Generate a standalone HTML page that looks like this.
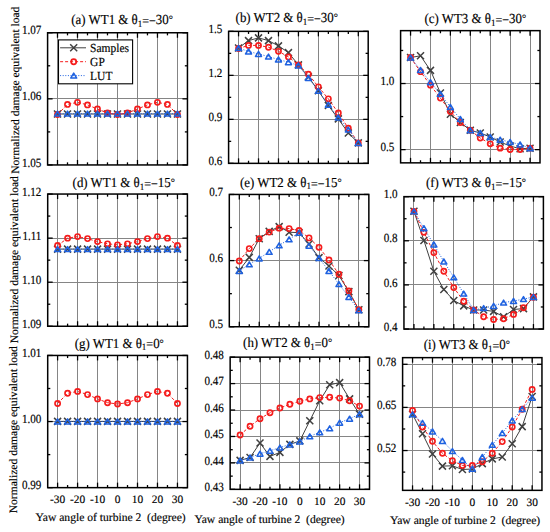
<!DOCTYPE html>
<html><head><meta charset="utf-8"><title>Chart</title>
<style>html,body{margin:0;padding:0;background:#fff;width:550px;height:532px;overflow:hidden}
svg{display:block;font-family:"Liberation Serif",serif;text-rendering:geometricPrecision} svg text{stroke:#000;stroke-width:0.15px}</style></head>
<body><svg width="550" height="532" viewBox="0 0 550 532" font-family='&quot;Liberation Serif&quot;, serif' fill="#000"><rect width="550" height="532" fill="#fff"/><g><line x1="57.5" y1="32.75" x2="57.5" y2="164.95" stroke="#858585" stroke-width="1"/><line x1="77.5" y1="32.75" x2="77.5" y2="164.95" stroke="#858585" stroke-width="1"/><line x1="97.5" y1="32.75" x2="97.5" y2="164.95" stroke="#858585" stroke-width="1"/><line x1="117.5" y1="32.75" x2="117.5" y2="164.95" stroke="#858585" stroke-width="1"/><line x1="137.5" y1="32.75" x2="137.5" y2="164.95" stroke="#858585" stroke-width="1"/><line x1="157.5" y1="32.75" x2="157.5" y2="164.95" stroke="#858585" stroke-width="1"/><line x1="177.5" y1="32.75" x2="177.5" y2="164.95" stroke="#858585" stroke-width="1"/><line x1="47.6" y1="98.5" x2="187.45" y2="98.5" stroke="#858585" stroke-width="1"/><line x1="57.5" y1="164.95" x2="57.5" y2="159.95" stroke="#000" stroke-width="1.3"/><line x1="57.5" y1="32.75" x2="57.5" y2="37.75" stroke="#000" stroke-width="1.3"/><line x1="67.5" y1="164.95" x2="67.5" y2="162.35" stroke="#000" stroke-width="1.3"/><line x1="67.5" y1="32.75" x2="67.5" y2="35.35" stroke="#000" stroke-width="1.3"/><line x1="77.49" y1="164.95" x2="77.49" y2="159.95" stroke="#000" stroke-width="1.3"/><line x1="77.49" y1="32.75" x2="77.49" y2="37.75" stroke="#000" stroke-width="1.3"/><line x1="87.49" y1="164.95" x2="87.49" y2="162.35" stroke="#000" stroke-width="1.3"/><line x1="87.49" y1="32.75" x2="87.49" y2="35.35" stroke="#000" stroke-width="1.3"/><line x1="97.48" y1="164.95" x2="97.48" y2="159.95" stroke="#000" stroke-width="1.3"/><line x1="97.48" y1="32.75" x2="97.48" y2="37.75" stroke="#000" stroke-width="1.3"/><line x1="107.48" y1="164.95" x2="107.48" y2="162.35" stroke="#000" stroke-width="1.3"/><line x1="107.48" y1="32.75" x2="107.48" y2="35.35" stroke="#000" stroke-width="1.3"/><line x1="117.47" y1="164.95" x2="117.47" y2="159.95" stroke="#000" stroke-width="1.3"/><line x1="117.47" y1="32.75" x2="117.47" y2="37.75" stroke="#000" stroke-width="1.3"/><line x1="127.47" y1="164.95" x2="127.47" y2="162.35" stroke="#000" stroke-width="1.3"/><line x1="127.47" y1="32.75" x2="127.47" y2="35.35" stroke="#000" stroke-width="1.3"/><line x1="137.47" y1="164.95" x2="137.47" y2="159.95" stroke="#000" stroke-width="1.3"/><line x1="137.47" y1="32.75" x2="137.47" y2="37.75" stroke="#000" stroke-width="1.3"/><line x1="147.46" y1="164.95" x2="147.46" y2="162.35" stroke="#000" stroke-width="1.3"/><line x1="147.46" y1="32.75" x2="147.46" y2="35.35" stroke="#000" stroke-width="1.3"/><line x1="157.46" y1="164.95" x2="157.46" y2="159.95" stroke="#000" stroke-width="1.3"/><line x1="157.46" y1="32.75" x2="157.46" y2="37.75" stroke="#000" stroke-width="1.3"/><line x1="167.45" y1="164.95" x2="167.45" y2="162.35" stroke="#000" stroke-width="1.3"/><line x1="167.45" y1="32.75" x2="167.45" y2="35.35" stroke="#000" stroke-width="1.3"/><line x1="177.45" y1="164.95" x2="177.45" y2="159.95" stroke="#000" stroke-width="1.3"/><line x1="177.45" y1="32.75" x2="177.45" y2="37.75" stroke="#000" stroke-width="1.3"/><line x1="47.6" y1="164.95" x2="52.6" y2="164.95" stroke="#000" stroke-width="1.3"/><line x1="187.45" y1="164.95" x2="182.45" y2="164.95" stroke="#000" stroke-width="1.3"/><line x1="47.6" y1="98.85" x2="52.6" y2="98.85" stroke="#000" stroke-width="1.3"/><line x1="187.45" y1="98.85" x2="182.45" y2="98.85" stroke="#000" stroke-width="1.3"/><line x1="47.6" y1="32.75" x2="52.6" y2="32.75" stroke="#000" stroke-width="1.3"/><line x1="187.45" y1="32.75" x2="182.45" y2="32.75" stroke="#000" stroke-width="1.3"/><line x1="47.6" y1="131.9" x2="50.2" y2="131.9" stroke="#000" stroke-width="1.3"/><line x1="187.45" y1="131.9" x2="184.85" y2="131.9" stroke="#000" stroke-width="1.3"/><line x1="47.6" y1="65.8" x2="50.2" y2="65.8" stroke="#000" stroke-width="1.3"/><line x1="187.45" y1="65.8" x2="184.85" y2="65.8" stroke="#000" stroke-width="1.3"/><text transform="translate(41.3,166.55) scale(1,1.13)" font-size="11.1" text-anchor="end">1.05</text><text transform="translate(41.3,100.45) scale(1,1.13)" font-size="11.1" text-anchor="end">1.06</text><text transform="translate(41.3,34.35) scale(1,1.13)" font-size="11.1" text-anchor="end">1.07</text><polyline points="57.5,114 67.5,114 77.49,114 87.49,114 97.48,114 107.48,114 117.47,114 127.47,114 137.47,114 147.46,114 157.46,114 167.45,114 177.45,114" stroke="#404040" stroke-width="1" fill="none"/><path d="M54 110.5L61 117.5M54 117.5L61 110.5" stroke="#404040" stroke-width="1.5" fill="none"/><path d="M64 110.5L71 117.5M64 117.5L71 110.5" stroke="#404040" stroke-width="1.5" fill="none"/><path d="M73.99 110.5L80.99 117.5M73.99 117.5L80.99 110.5" stroke="#404040" stroke-width="1.5" fill="none"/><path d="M83.99 110.5L90.99 117.5M83.99 117.5L90.99 110.5" stroke="#404040" stroke-width="1.5" fill="none"/><path d="M93.98 110.5L100.98 117.5M93.98 117.5L100.98 110.5" stroke="#404040" stroke-width="1.5" fill="none"/><path d="M103.98 110.5L110.98 117.5M103.98 117.5L110.98 110.5" stroke="#404040" stroke-width="1.5" fill="none"/><path d="M113.97 110.5L120.97 117.5M113.97 117.5L120.97 110.5" stroke="#404040" stroke-width="1.5" fill="none"/><path d="M123.97 110.5L130.97 117.5M123.97 117.5L130.97 110.5" stroke="#404040" stroke-width="1.5" fill="none"/><path d="M133.97 110.5L140.97 117.5M133.97 117.5L140.97 110.5" stroke="#404040" stroke-width="1.5" fill="none"/><path d="M143.96 110.5L150.96 117.5M143.96 117.5L150.96 110.5" stroke="#404040" stroke-width="1.5" fill="none"/><path d="M153.96 110.5L160.96 117.5M153.96 117.5L160.96 110.5" stroke="#404040" stroke-width="1.5" fill="none"/><path d="M163.95 110.5L170.95 117.5M163.95 117.5L170.95 110.5" stroke="#404040" stroke-width="1.5" fill="none"/><path d="M173.95 110.5L180.95 117.5M173.95 117.5L180.95 110.5" stroke="#404040" stroke-width="1.5" fill="none"/><polyline points="57.5,114.5 67.5,104.4 77.49,102.3 87.49,104.9 97.48,109 107.48,113 117.47,114.5 127.47,113 137.47,109 147.46,104.9 157.46,102.3 167.45,104.4 177.45,114.5" stroke="#f51c1c" stroke-width="1" fill="none" stroke-dasharray="3,2"/><circle cx="57.5" cy="114.5" r="2.6" stroke="#f51c1c" stroke-width="1.65" fill="none"/><circle cx="67.5" cy="104.4" r="2.6" stroke="#f51c1c" stroke-width="1.65" fill="none"/><circle cx="77.49" cy="102.3" r="2.6" stroke="#f51c1c" stroke-width="1.65" fill="none"/><circle cx="87.49" cy="104.9" r="2.6" stroke="#f51c1c" stroke-width="1.65" fill="none"/><circle cx="97.48" cy="109" r="2.6" stroke="#f51c1c" stroke-width="1.65" fill="none"/><circle cx="107.48" cy="113" r="2.6" stroke="#f51c1c" stroke-width="1.65" fill="none"/><circle cx="117.47" cy="114.5" r="2.6" stroke="#f51c1c" stroke-width="1.65" fill="none"/><circle cx="127.47" cy="113" r="2.6" stroke="#f51c1c" stroke-width="1.65" fill="none"/><circle cx="137.47" cy="109" r="2.6" stroke="#f51c1c" stroke-width="1.65" fill="none"/><circle cx="147.46" cy="104.9" r="2.6" stroke="#f51c1c" stroke-width="1.65" fill="none"/><circle cx="157.46" cy="102.3" r="2.6" stroke="#f51c1c" stroke-width="1.65" fill="none"/><circle cx="167.45" cy="104.4" r="2.6" stroke="#f51c1c" stroke-width="1.65" fill="none"/><circle cx="177.45" cy="114.5" r="2.6" stroke="#f51c1c" stroke-width="1.65" fill="none"/><polyline points="57.5,113.6 67.5,113.6 77.49,113.6 87.49,113.6 97.48,113.6 107.48,113.6 117.47,113.6 127.47,113.6 137.47,113.6 147.46,113.6 157.46,113.6 167.45,113.6 177.45,113.6" stroke="#1f62e0" stroke-width="1" fill="none" stroke-dasharray="1,1.6"/><path d="M57.5 111.1L60.5 116.1L54.5 116.1Z" stroke="#1f62e0" stroke-width="1.5" fill="none" stroke-linejoin="round"/><path d="M67.5 111.1L70.5 116.1L64.5 116.1Z" stroke="#1f62e0" stroke-width="1.5" fill="none" stroke-linejoin="round"/><path d="M77.49 111.1L80.49 116.1L74.49 116.1Z" stroke="#1f62e0" stroke-width="1.5" fill="none" stroke-linejoin="round"/><path d="M87.49 111.1L90.49 116.1L84.49 116.1Z" stroke="#1f62e0" stroke-width="1.5" fill="none" stroke-linejoin="round"/><path d="M97.48 111.1L100.48 116.1L94.48 116.1Z" stroke="#1f62e0" stroke-width="1.5" fill="none" stroke-linejoin="round"/><path d="M107.48 111.1L110.48 116.1L104.48 116.1Z" stroke="#1f62e0" stroke-width="1.5" fill="none" stroke-linejoin="round"/><path d="M117.47 111.1L120.47 116.1L114.47 116.1Z" stroke="#1f62e0" stroke-width="1.5" fill="none" stroke-linejoin="round"/><path d="M127.47 111.1L130.47 116.1L124.47 116.1Z" stroke="#1f62e0" stroke-width="1.5" fill="none" stroke-linejoin="round"/><path d="M137.47 111.1L140.47 116.1L134.47 116.1Z" stroke="#1f62e0" stroke-width="1.5" fill="none" stroke-linejoin="round"/><path d="M147.46 111.1L150.46 116.1L144.46 116.1Z" stroke="#1f62e0" stroke-width="1.5" fill="none" stroke-linejoin="round"/><path d="M157.46 111.1L160.46 116.1L154.46 116.1Z" stroke="#1f62e0" stroke-width="1.5" fill="none" stroke-linejoin="round"/><path d="M167.45 111.1L170.45 116.1L164.45 116.1Z" stroke="#1f62e0" stroke-width="1.5" fill="none" stroke-linejoin="round"/><path d="M177.45 111.1L180.45 116.1L174.45 116.1Z" stroke="#1f62e0" stroke-width="1.5" fill="none" stroke-linejoin="round"/><rect x="47.6" y="32.75" width="139.85" height="132.2" stroke="#000" stroke-width="1.5" fill="none"/><text transform="translate(71.3,24.35) scale(1,1.07)" font-size="12.9">(a) WT1 &amp; θ<tspan font-size="9" dy="2.6">1</tspan><tspan font-size="12" dy="-1.8">=−</tspan><tspan dy="-0.8">30</tspan><tspan font-size="10.5" dy="-0.9">°</tspan></text></g><g><line x1="238.5" y1="31.35" x2="238.5" y2="163.35" stroke="#858585" stroke-width="1"/><line x1="258.5" y1="31.35" x2="258.5" y2="163.35" stroke="#858585" stroke-width="1"/><line x1="278.5" y1="31.35" x2="278.5" y2="163.35" stroke="#858585" stroke-width="1"/><line x1="298.5" y1="31.35" x2="298.5" y2="163.35" stroke="#858585" stroke-width="1"/><line x1="318.5" y1="31.35" x2="318.5" y2="163.35" stroke="#858585" stroke-width="1"/><line x1="338.5" y1="31.35" x2="338.5" y2="163.35" stroke="#858585" stroke-width="1"/><line x1="358.5" y1="31.35" x2="358.5" y2="163.35" stroke="#858585" stroke-width="1"/><line x1="228.6" y1="119.5" x2="368.2" y2="119.5" stroke="#858585" stroke-width="1"/><line x1="228.6" y1="75.5" x2="368.2" y2="75.5" stroke="#858585" stroke-width="1"/><line x1="238.55" y1="163.35" x2="238.55" y2="158.35" stroke="#000" stroke-width="1.3"/><line x1="238.55" y1="31.35" x2="238.55" y2="36.35" stroke="#000" stroke-width="1.3"/><line x1="248.53" y1="163.35" x2="248.53" y2="160.75" stroke="#000" stroke-width="1.3"/><line x1="248.53" y1="31.35" x2="248.53" y2="33.95" stroke="#000" stroke-width="1.3"/><line x1="258.51" y1="163.35" x2="258.51" y2="158.35" stroke="#000" stroke-width="1.3"/><line x1="258.51" y1="31.35" x2="258.51" y2="36.35" stroke="#000" stroke-width="1.3"/><line x1="268.49" y1="163.35" x2="268.49" y2="160.75" stroke="#000" stroke-width="1.3"/><line x1="268.49" y1="31.35" x2="268.49" y2="33.95" stroke="#000" stroke-width="1.3"/><line x1="278.47" y1="163.35" x2="278.47" y2="158.35" stroke="#000" stroke-width="1.3"/><line x1="278.47" y1="31.35" x2="278.47" y2="36.35" stroke="#000" stroke-width="1.3"/><line x1="288.45" y1="163.35" x2="288.45" y2="160.75" stroke="#000" stroke-width="1.3"/><line x1="288.45" y1="31.35" x2="288.45" y2="33.95" stroke="#000" stroke-width="1.3"/><line x1="298.43" y1="163.35" x2="298.43" y2="158.35" stroke="#000" stroke-width="1.3"/><line x1="298.43" y1="31.35" x2="298.43" y2="36.35" stroke="#000" stroke-width="1.3"/><line x1="308.4" y1="163.35" x2="308.4" y2="160.75" stroke="#000" stroke-width="1.3"/><line x1="308.4" y1="31.35" x2="308.4" y2="33.95" stroke="#000" stroke-width="1.3"/><line x1="318.38" y1="163.35" x2="318.38" y2="158.35" stroke="#000" stroke-width="1.3"/><line x1="318.38" y1="31.35" x2="318.38" y2="36.35" stroke="#000" stroke-width="1.3"/><line x1="328.36" y1="163.35" x2="328.36" y2="160.75" stroke="#000" stroke-width="1.3"/><line x1="328.36" y1="31.35" x2="328.36" y2="33.95" stroke="#000" stroke-width="1.3"/><line x1="338.34" y1="163.35" x2="338.34" y2="158.35" stroke="#000" stroke-width="1.3"/><line x1="338.34" y1="31.35" x2="338.34" y2="36.35" stroke="#000" stroke-width="1.3"/><line x1="348.32" y1="163.35" x2="348.32" y2="160.75" stroke="#000" stroke-width="1.3"/><line x1="348.32" y1="31.35" x2="348.32" y2="33.95" stroke="#000" stroke-width="1.3"/><line x1="358.3" y1="163.35" x2="358.3" y2="158.35" stroke="#000" stroke-width="1.3"/><line x1="358.3" y1="31.35" x2="358.3" y2="36.35" stroke="#000" stroke-width="1.3"/><line x1="228.6" y1="163.35" x2="233.6" y2="163.35" stroke="#000" stroke-width="1.3"/><line x1="368.2" y1="163.35" x2="363.2" y2="163.35" stroke="#000" stroke-width="1.3"/><line x1="228.6" y1="119.35" x2="233.6" y2="119.35" stroke="#000" stroke-width="1.3"/><line x1="368.2" y1="119.35" x2="363.2" y2="119.35" stroke="#000" stroke-width="1.3"/><line x1="228.6" y1="75.35" x2="233.6" y2="75.35" stroke="#000" stroke-width="1.3"/><line x1="368.2" y1="75.35" x2="363.2" y2="75.35" stroke="#000" stroke-width="1.3"/><line x1="228.6" y1="31.35" x2="233.6" y2="31.35" stroke="#000" stroke-width="1.3"/><line x1="368.2" y1="31.35" x2="363.2" y2="31.35" stroke="#000" stroke-width="1.3"/><line x1="228.6" y1="141.35" x2="231.2" y2="141.35" stroke="#000" stroke-width="1.3"/><line x1="368.2" y1="141.35" x2="365.6" y2="141.35" stroke="#000" stroke-width="1.3"/><line x1="228.6" y1="97.35" x2="231.2" y2="97.35" stroke="#000" stroke-width="1.3"/><line x1="368.2" y1="97.35" x2="365.6" y2="97.35" stroke="#000" stroke-width="1.3"/><line x1="228.6" y1="53.35" x2="231.2" y2="53.35" stroke="#000" stroke-width="1.3"/><line x1="368.2" y1="53.35" x2="365.6" y2="53.35" stroke="#000" stroke-width="1.3"/><text transform="translate(222.3,164.95) scale(1,1.13)" font-size="11.1" text-anchor="end">0.6</text><text transform="translate(222.3,120.95) scale(1,1.13)" font-size="11.1" text-anchor="end">0.9</text><text transform="translate(222.3,76.95) scale(1,1.13)" font-size="11.1" text-anchor="end">1.2</text><text transform="translate(222.3,32.95) scale(1,1.13)" font-size="11.1" text-anchor="end">1.5</text><polyline points="238.55,48 248.53,40.6 258.51,37.9 268.49,40.6 278.47,45.9 288.45,52.6 298.43,64.9 308.4,76.9 318.38,90.8 328.36,105.5 338.34,118.9 348.32,133 358.3,142.9" stroke="#404040" stroke-width="1" fill="none"/><path d="M235.05 44.5L242.05 51.5M235.05 51.5L242.05 44.5" stroke="#404040" stroke-width="1.5" fill="none"/><path d="M245.03 37.1L252.03 44.1M245.03 44.1L252.03 37.1" stroke="#404040" stroke-width="1.5" fill="none"/><path d="M255.01 34.4L262.01 41.4M255.01 41.4L262.01 34.4" stroke="#404040" stroke-width="1.5" fill="none"/><path d="M264.99 37.1L271.99 44.1M264.99 44.1L271.99 37.1" stroke="#404040" stroke-width="1.5" fill="none"/><path d="M274.97 42.4L281.97 49.4M274.97 49.4L281.97 42.4" stroke="#404040" stroke-width="1.5" fill="none"/><path d="M284.95 49.1L291.95 56.1M284.95 56.1L291.95 49.1" stroke="#404040" stroke-width="1.5" fill="none"/><path d="M294.93 61.4L301.93 68.4M294.93 68.4L301.93 61.4" stroke="#404040" stroke-width="1.5" fill="none"/><path d="M304.9 73.4L311.9 80.4M304.9 80.4L311.9 73.4" stroke="#404040" stroke-width="1.5" fill="none"/><path d="M314.88 87.3L321.88 94.3M314.88 94.3L321.88 87.3" stroke="#404040" stroke-width="1.5" fill="none"/><path d="M324.86 102L331.86 109M324.86 109L331.86 102" stroke="#404040" stroke-width="1.5" fill="none"/><path d="M334.84 115.4L341.84 122.4M334.84 122.4L341.84 115.4" stroke="#404040" stroke-width="1.5" fill="none"/><path d="M344.82 129.5L351.82 136.5M344.82 136.5L351.82 129.5" stroke="#404040" stroke-width="1.5" fill="none"/><path d="M354.8 139.4L361.8 146.4M354.8 146.4L361.8 139.4" stroke="#404040" stroke-width="1.5" fill="none"/><polyline points="238.55,48.5 248.53,45.4 258.51,45.4 268.49,47.2 278.47,51.3 288.45,56.9 298.43,64.9 308.4,74.2 318.38,86.8 328.36,98.8 338.34,113 348.32,128.2 358.3,142.9" stroke="#f51c1c" stroke-width="1" fill="none" stroke-dasharray="3,2"/><circle cx="238.55" cy="48.5" r="2.6" stroke="#f51c1c" stroke-width="1.65" fill="none"/><circle cx="248.53" cy="45.4" r="2.6" stroke="#f51c1c" stroke-width="1.65" fill="none"/><circle cx="258.51" cy="45.4" r="2.6" stroke="#f51c1c" stroke-width="1.65" fill="none"/><circle cx="268.49" cy="47.2" r="2.6" stroke="#f51c1c" stroke-width="1.65" fill="none"/><circle cx="278.47" cy="51.3" r="2.6" stroke="#f51c1c" stroke-width="1.65" fill="none"/><circle cx="288.45" cy="56.9" r="2.6" stroke="#f51c1c" stroke-width="1.65" fill="none"/><circle cx="298.43" cy="64.9" r="2.6" stroke="#f51c1c" stroke-width="1.65" fill="none"/><circle cx="308.4" cy="74.2" r="2.6" stroke="#f51c1c" stroke-width="1.65" fill="none"/><circle cx="318.38" cy="86.8" r="2.6" stroke="#f51c1c" stroke-width="1.65" fill="none"/><circle cx="328.36" cy="98.8" r="2.6" stroke="#f51c1c" stroke-width="1.65" fill="none"/><circle cx="338.34" cy="113" r="2.6" stroke="#f51c1c" stroke-width="1.65" fill="none"/><circle cx="348.32" cy="128.2" r="2.6" stroke="#f51c1c" stroke-width="1.65" fill="none"/><circle cx="358.3" cy="142.9" r="2.6" stroke="#f51c1c" stroke-width="1.65" fill="none"/><polyline points="238.55,48 248.53,51.5 258.51,53.9 268.49,56.6 278.47,59.5 288.45,62.2 298.43,65.4 308.4,78 318.38,90.8 328.36,104.7 338.34,117.5 348.32,129.6 358.3,142.9" stroke="#1f62e0" stroke-width="1" fill="none" stroke-dasharray="1,1.6"/><path d="M238.55 45.5L241.55 50.5L235.55 50.5Z" stroke="#1f62e0" stroke-width="1.5" fill="none" stroke-linejoin="round"/><path d="M248.53 49L251.53 54L245.53 54Z" stroke="#1f62e0" stroke-width="1.5" fill="none" stroke-linejoin="round"/><path d="M258.51 51.4L261.51 56.4L255.51 56.4Z" stroke="#1f62e0" stroke-width="1.5" fill="none" stroke-linejoin="round"/><path d="M268.49 54.1L271.49 59.1L265.49 59.1Z" stroke="#1f62e0" stroke-width="1.5" fill="none" stroke-linejoin="round"/><path d="M278.47 57L281.47 62L275.47 62Z" stroke="#1f62e0" stroke-width="1.5" fill="none" stroke-linejoin="round"/><path d="M288.45 59.7L291.45 64.7L285.45 64.7Z" stroke="#1f62e0" stroke-width="1.5" fill="none" stroke-linejoin="round"/><path d="M298.43 62.9L301.43 67.9L295.43 67.9Z" stroke="#1f62e0" stroke-width="1.5" fill="none" stroke-linejoin="round"/><path d="M308.4 75.5L311.4 80.5L305.4 80.5Z" stroke="#1f62e0" stroke-width="1.5" fill="none" stroke-linejoin="round"/><path d="M318.38 88.3L321.38 93.3L315.38 93.3Z" stroke="#1f62e0" stroke-width="1.5" fill="none" stroke-linejoin="round"/><path d="M328.36 102.2L331.36 107.2L325.36 107.2Z" stroke="#1f62e0" stroke-width="1.5" fill="none" stroke-linejoin="round"/><path d="M338.34 115L341.34 120L335.34 120Z" stroke="#1f62e0" stroke-width="1.5" fill="none" stroke-linejoin="round"/><path d="M348.32 127.1L351.32 132.1L345.32 132.1Z" stroke="#1f62e0" stroke-width="1.5" fill="none" stroke-linejoin="round"/><path d="M358.3 140.4L361.3 145.4L355.3 145.4Z" stroke="#1f62e0" stroke-width="1.5" fill="none" stroke-linejoin="round"/><rect x="228.6" y="31.35" width="139.6" height="132" stroke="#000" stroke-width="1.5" fill="none"/><text transform="translate(235.6,21.75) scale(1,1.07)" font-size="12.9">(b) WT2 &amp; θ<tspan font-size="9" dy="2.6">1</tspan><tspan font-size="12" dy="-1.8">=−</tspan><tspan dy="-0.8">30</tspan><tspan font-size="10.5" dy="-0.9">°</tspan></text></g><g><line x1="410.5" y1="30.65" x2="410.5" y2="162.85" stroke="#858585" stroke-width="1"/><line x1="430.5" y1="30.65" x2="430.5" y2="162.85" stroke="#858585" stroke-width="1"/><line x1="450.5" y1="30.65" x2="450.5" y2="162.85" stroke="#858585" stroke-width="1"/><line x1="470.5" y1="30.65" x2="470.5" y2="162.85" stroke="#858585" stroke-width="1"/><line x1="490.5" y1="30.65" x2="490.5" y2="162.85" stroke="#858585" stroke-width="1"/><line x1="510.5" y1="30.65" x2="510.5" y2="162.85" stroke="#858585" stroke-width="1"/><line x1="530.5" y1="30.65" x2="530.5" y2="162.85" stroke="#858585" stroke-width="1"/><line x1="400.6" y1="149.5" x2="540" y2="149.5" stroke="#858585" stroke-width="1"/><line x1="400.6" y1="83.5" x2="540" y2="83.5" stroke="#858585" stroke-width="1"/><line x1="410.55" y1="162.85" x2="410.55" y2="157.85" stroke="#000" stroke-width="1.3"/><line x1="410.55" y1="30.65" x2="410.55" y2="35.65" stroke="#000" stroke-width="1.3"/><line x1="420.51" y1="162.85" x2="420.51" y2="160.25" stroke="#000" stroke-width="1.3"/><line x1="420.51" y1="30.65" x2="420.51" y2="33.25" stroke="#000" stroke-width="1.3"/><line x1="430.47" y1="162.85" x2="430.47" y2="157.85" stroke="#000" stroke-width="1.3"/><line x1="430.47" y1="30.65" x2="430.47" y2="35.65" stroke="#000" stroke-width="1.3"/><line x1="440.43" y1="162.85" x2="440.43" y2="160.25" stroke="#000" stroke-width="1.3"/><line x1="440.43" y1="30.65" x2="440.43" y2="33.25" stroke="#000" stroke-width="1.3"/><line x1="450.38" y1="162.85" x2="450.38" y2="157.85" stroke="#000" stroke-width="1.3"/><line x1="450.38" y1="30.65" x2="450.38" y2="35.65" stroke="#000" stroke-width="1.3"/><line x1="460.34" y1="162.85" x2="460.34" y2="160.25" stroke="#000" stroke-width="1.3"/><line x1="460.34" y1="30.65" x2="460.34" y2="33.25" stroke="#000" stroke-width="1.3"/><line x1="470.3" y1="162.85" x2="470.3" y2="157.85" stroke="#000" stroke-width="1.3"/><line x1="470.3" y1="30.65" x2="470.3" y2="35.65" stroke="#000" stroke-width="1.3"/><line x1="480.26" y1="162.85" x2="480.26" y2="160.25" stroke="#000" stroke-width="1.3"/><line x1="480.26" y1="30.65" x2="480.26" y2="33.25" stroke="#000" stroke-width="1.3"/><line x1="490.22" y1="162.85" x2="490.22" y2="157.85" stroke="#000" stroke-width="1.3"/><line x1="490.22" y1="30.65" x2="490.22" y2="35.65" stroke="#000" stroke-width="1.3"/><line x1="500.17" y1="162.85" x2="500.17" y2="160.25" stroke="#000" stroke-width="1.3"/><line x1="500.17" y1="30.65" x2="500.17" y2="33.25" stroke="#000" stroke-width="1.3"/><line x1="510.13" y1="162.85" x2="510.13" y2="157.85" stroke="#000" stroke-width="1.3"/><line x1="510.13" y1="30.65" x2="510.13" y2="35.65" stroke="#000" stroke-width="1.3"/><line x1="520.09" y1="162.85" x2="520.09" y2="160.25" stroke="#000" stroke-width="1.3"/><line x1="520.09" y1="30.65" x2="520.09" y2="33.25" stroke="#000" stroke-width="1.3"/><line x1="530.05" y1="162.85" x2="530.05" y2="157.85" stroke="#000" stroke-width="1.3"/><line x1="530.05" y1="30.65" x2="530.05" y2="35.65" stroke="#000" stroke-width="1.3"/><line x1="400.6" y1="149.63" x2="405.6" y2="149.63" stroke="#000" stroke-width="1.3"/><line x1="540" y1="149.63" x2="535" y2="149.63" stroke="#000" stroke-width="1.3"/><line x1="400.6" y1="83.53" x2="405.6" y2="83.53" stroke="#000" stroke-width="1.3"/><line x1="540" y1="83.53" x2="535" y2="83.53" stroke="#000" stroke-width="1.3"/><line x1="400.6" y1="116.58" x2="403.2" y2="116.58" stroke="#000" stroke-width="1.3"/><line x1="540" y1="116.58" x2="537.4" y2="116.58" stroke="#000" stroke-width="1.3"/><line x1="400.6" y1="50.48" x2="403.2" y2="50.48" stroke="#000" stroke-width="1.3"/><line x1="540" y1="50.48" x2="537.4" y2="50.48" stroke="#000" stroke-width="1.3"/><text transform="translate(394.3,151.23) scale(1,1.13)" font-size="11.1" text-anchor="end">0.5</text><text transform="translate(394.3,85.13) scale(1,1.13)" font-size="11.1" text-anchor="end">1.0</text><polyline points="410.55,57.5 420.51,55.8 430.47,70.4 440.43,93 450.38,114.2 460.34,122.5 470.3,130.2 480.26,133 490.22,137 500.17,142 510.13,146 520.09,148.8 530.05,148.2" stroke="#404040" stroke-width="1" fill="none"/><path d="M407.05 54L414.05 61M407.05 61L414.05 54" stroke="#404040" stroke-width="1.5" fill="none"/><path d="M417.01 52.3L424.01 59.3M417.01 59.3L424.01 52.3" stroke="#404040" stroke-width="1.5" fill="none"/><path d="M426.97 66.9L433.97 73.9M426.97 73.9L433.97 66.9" stroke="#404040" stroke-width="1.5" fill="none"/><path d="M436.93 89.5L443.93 96.5M436.93 96.5L443.93 89.5" stroke="#404040" stroke-width="1.5" fill="none"/><path d="M446.88 110.7L453.88 117.7M446.88 117.7L453.88 110.7" stroke="#404040" stroke-width="1.5" fill="none"/><path d="M456.84 119L463.84 126M456.84 126L463.84 119" stroke="#404040" stroke-width="1.5" fill="none"/><path d="M466.8 126.7L473.8 133.7M466.8 133.7L473.8 126.7" stroke="#404040" stroke-width="1.5" fill="none"/><path d="M476.76 129.5L483.76 136.5M476.76 136.5L483.76 129.5" stroke="#404040" stroke-width="1.5" fill="none"/><path d="M486.72 133.5L493.72 140.5M486.72 140.5L493.72 133.5" stroke="#404040" stroke-width="1.5" fill="none"/><path d="M496.67 138.5L503.67 145.5M496.67 145.5L503.67 138.5" stroke="#404040" stroke-width="1.5" fill="none"/><path d="M506.63 142.5L513.63 149.5M506.63 149.5L513.63 142.5" stroke="#404040" stroke-width="1.5" fill="none"/><path d="M516.59 145.3L523.59 152.3M516.59 152.3L523.59 145.3" stroke="#404040" stroke-width="1.5" fill="none"/><path d="M526.55 144.7L533.55 151.7M526.55 151.7L533.55 144.7" stroke="#404040" stroke-width="1.5" fill="none"/><polyline points="410.55,57.5 420.51,71.7 430.47,85.2 440.43,98.1 450.38,111.6 460.34,122.5 470.3,130.2 480.26,138 490.22,143.8 500.17,148.2 510.13,149.5 520.09,149.5 530.05,148.2" stroke="#f51c1c" stroke-width="1" fill="none" stroke-dasharray="3,2"/><circle cx="410.55" cy="57.5" r="2.6" stroke="#f51c1c" stroke-width="1.65" fill="none"/><circle cx="420.51" cy="71.7" r="2.6" stroke="#f51c1c" stroke-width="1.65" fill="none"/><circle cx="430.47" cy="85.2" r="2.6" stroke="#f51c1c" stroke-width="1.65" fill="none"/><circle cx="440.43" cy="98.1" r="2.6" stroke="#f51c1c" stroke-width="1.65" fill="none"/><circle cx="450.38" cy="111.6" r="2.6" stroke="#f51c1c" stroke-width="1.65" fill="none"/><circle cx="460.34" cy="122.5" r="2.6" stroke="#f51c1c" stroke-width="1.65" fill="none"/><circle cx="470.3" cy="130.2" r="2.6" stroke="#f51c1c" stroke-width="1.65" fill="none"/><circle cx="480.26" cy="138" r="2.6" stroke="#f51c1c" stroke-width="1.65" fill="none"/><circle cx="490.22" cy="143.8" r="2.6" stroke="#f51c1c" stroke-width="1.65" fill="none"/><circle cx="500.17" cy="148.2" r="2.6" stroke="#f51c1c" stroke-width="1.65" fill="none"/><circle cx="510.13" cy="149.5" r="2.6" stroke="#f51c1c" stroke-width="1.65" fill="none"/><circle cx="520.09" cy="149.5" r="2.6" stroke="#f51c1c" stroke-width="1.65" fill="none"/><circle cx="530.05" cy="148.2" r="2.6" stroke="#f51c1c" stroke-width="1.65" fill="none"/><polyline points="410.55,57.5 420.51,70 430.47,82.2 440.43,94 450.38,107 460.34,119 470.3,130.2 480.26,133 490.22,137 500.17,139.7 510.13,142 520.09,144.5 530.05,148.2" stroke="#1f62e0" stroke-width="1" fill="none" stroke-dasharray="1,1.6"/><path d="M410.55 55L413.55 60L407.55 60Z" stroke="#1f62e0" stroke-width="1.5" fill="none" stroke-linejoin="round"/><path d="M420.51 67.5L423.51 72.5L417.51 72.5Z" stroke="#1f62e0" stroke-width="1.5" fill="none" stroke-linejoin="round"/><path d="M430.47 79.7L433.47 84.7L427.47 84.7Z" stroke="#1f62e0" stroke-width="1.5" fill="none" stroke-linejoin="round"/><path d="M440.43 91.5L443.43 96.5L437.43 96.5Z" stroke="#1f62e0" stroke-width="1.5" fill="none" stroke-linejoin="round"/><path d="M450.38 104.5L453.38 109.5L447.38 109.5Z" stroke="#1f62e0" stroke-width="1.5" fill="none" stroke-linejoin="round"/><path d="M460.34 116.5L463.34 121.5L457.34 121.5Z" stroke="#1f62e0" stroke-width="1.5" fill="none" stroke-linejoin="round"/><path d="M470.3 127.7L473.3 132.7L467.3 132.7Z" stroke="#1f62e0" stroke-width="1.5" fill="none" stroke-linejoin="round"/><path d="M480.26 130.5L483.26 135.5L477.26 135.5Z" stroke="#1f62e0" stroke-width="1.5" fill="none" stroke-linejoin="round"/><path d="M490.22 134.5L493.22 139.5L487.22 139.5Z" stroke="#1f62e0" stroke-width="1.5" fill="none" stroke-linejoin="round"/><path d="M500.17 137.2L503.17 142.2L497.17 142.2Z" stroke="#1f62e0" stroke-width="1.5" fill="none" stroke-linejoin="round"/><path d="M510.13 139.5L513.13 144.5L507.13 144.5Z" stroke="#1f62e0" stroke-width="1.5" fill="none" stroke-linejoin="round"/><path d="M520.09 142L523.09 147L517.09 147Z" stroke="#1f62e0" stroke-width="1.5" fill="none" stroke-linejoin="round"/><path d="M530.05 145.7L533.05 150.7L527.05 150.7Z" stroke="#1f62e0" stroke-width="1.5" fill="none" stroke-linejoin="round"/><rect x="400.6" y="30.65" width="139.4" height="132.2" stroke="#000" stroke-width="1.5" fill="none"/><text transform="translate(424.5,23.25) scale(1,1.07)" font-size="12.9">(c) WT3 &amp; θ<tspan font-size="9" dy="2.6">1</tspan><tspan font-size="12" dy="-1.8">=−</tspan><tspan dy="-0.8">30</tspan><tspan font-size="10.5" dy="-0.9">°</tspan></text></g><g><line x1="57.5" y1="194.05" x2="57.5" y2="326.25" stroke="#858585" stroke-width="1"/><line x1="77.5" y1="194.05" x2="77.5" y2="326.25" stroke="#858585" stroke-width="1"/><line x1="97.5" y1="194.05" x2="97.5" y2="326.25" stroke="#858585" stroke-width="1"/><line x1="117.5" y1="194.05" x2="117.5" y2="326.25" stroke="#858585" stroke-width="1"/><line x1="137.5" y1="194.05" x2="137.5" y2="326.25" stroke="#858585" stroke-width="1"/><line x1="157.5" y1="194.05" x2="157.5" y2="326.25" stroke="#858585" stroke-width="1"/><line x1="177.5" y1="194.05" x2="177.5" y2="326.25" stroke="#858585" stroke-width="1"/><line x1="47.7" y1="282.5" x2="187.4" y2="282.5" stroke="#858585" stroke-width="1"/><line x1="47.7" y1="238.5" x2="187.4" y2="238.5" stroke="#858585" stroke-width="1"/><line x1="57.6" y1="326.25" x2="57.6" y2="321.25" stroke="#000" stroke-width="1.3"/><line x1="57.6" y1="194.05" x2="57.6" y2="199.05" stroke="#000" stroke-width="1.3"/><line x1="67.59" y1="326.25" x2="67.59" y2="323.65" stroke="#000" stroke-width="1.3"/><line x1="67.59" y1="194.05" x2="67.59" y2="196.65" stroke="#000" stroke-width="1.3"/><line x1="77.58" y1="326.25" x2="77.58" y2="321.25" stroke="#000" stroke-width="1.3"/><line x1="77.58" y1="194.05" x2="77.58" y2="199.05" stroke="#000" stroke-width="1.3"/><line x1="87.56" y1="326.25" x2="87.56" y2="323.65" stroke="#000" stroke-width="1.3"/><line x1="87.56" y1="194.05" x2="87.56" y2="196.65" stroke="#000" stroke-width="1.3"/><line x1="97.55" y1="326.25" x2="97.55" y2="321.25" stroke="#000" stroke-width="1.3"/><line x1="97.55" y1="194.05" x2="97.55" y2="199.05" stroke="#000" stroke-width="1.3"/><line x1="107.54" y1="326.25" x2="107.54" y2="323.65" stroke="#000" stroke-width="1.3"/><line x1="107.54" y1="194.05" x2="107.54" y2="196.65" stroke="#000" stroke-width="1.3"/><line x1="117.53" y1="326.25" x2="117.53" y2="321.25" stroke="#000" stroke-width="1.3"/><line x1="117.53" y1="194.05" x2="117.53" y2="199.05" stroke="#000" stroke-width="1.3"/><line x1="127.51" y1="326.25" x2="127.51" y2="323.65" stroke="#000" stroke-width="1.3"/><line x1="127.51" y1="194.05" x2="127.51" y2="196.65" stroke="#000" stroke-width="1.3"/><line x1="137.5" y1="326.25" x2="137.5" y2="321.25" stroke="#000" stroke-width="1.3"/><line x1="137.5" y1="194.05" x2="137.5" y2="199.05" stroke="#000" stroke-width="1.3"/><line x1="147.49" y1="326.25" x2="147.49" y2="323.65" stroke="#000" stroke-width="1.3"/><line x1="147.49" y1="194.05" x2="147.49" y2="196.65" stroke="#000" stroke-width="1.3"/><line x1="157.47" y1="326.25" x2="157.47" y2="321.25" stroke="#000" stroke-width="1.3"/><line x1="157.47" y1="194.05" x2="157.47" y2="199.05" stroke="#000" stroke-width="1.3"/><line x1="167.46" y1="326.25" x2="167.46" y2="323.65" stroke="#000" stroke-width="1.3"/><line x1="167.46" y1="194.05" x2="167.46" y2="196.65" stroke="#000" stroke-width="1.3"/><line x1="177.45" y1="326.25" x2="177.45" y2="321.25" stroke="#000" stroke-width="1.3"/><line x1="177.45" y1="194.05" x2="177.45" y2="199.05" stroke="#000" stroke-width="1.3"/><line x1="47.7" y1="326.25" x2="52.7" y2="326.25" stroke="#000" stroke-width="1.3"/><line x1="187.4" y1="326.25" x2="182.4" y2="326.25" stroke="#000" stroke-width="1.3"/><line x1="47.7" y1="282.18" x2="52.7" y2="282.18" stroke="#000" stroke-width="1.3"/><line x1="187.4" y1="282.18" x2="182.4" y2="282.18" stroke="#000" stroke-width="1.3"/><line x1="47.7" y1="238.12" x2="52.7" y2="238.12" stroke="#000" stroke-width="1.3"/><line x1="187.4" y1="238.12" x2="182.4" y2="238.12" stroke="#000" stroke-width="1.3"/><line x1="47.7" y1="194.05" x2="52.7" y2="194.05" stroke="#000" stroke-width="1.3"/><line x1="187.4" y1="194.05" x2="182.4" y2="194.05" stroke="#000" stroke-width="1.3"/><line x1="47.7" y1="304.22" x2="50.3" y2="304.22" stroke="#000" stroke-width="1.3"/><line x1="187.4" y1="304.22" x2="184.8" y2="304.22" stroke="#000" stroke-width="1.3"/><line x1="47.7" y1="260.15" x2="50.3" y2="260.15" stroke="#000" stroke-width="1.3"/><line x1="187.4" y1="260.15" x2="184.8" y2="260.15" stroke="#000" stroke-width="1.3"/><line x1="47.7" y1="216.08" x2="50.3" y2="216.08" stroke="#000" stroke-width="1.3"/><line x1="187.4" y1="216.08" x2="184.8" y2="216.08" stroke="#000" stroke-width="1.3"/><text transform="translate(41.4,327.85) scale(1,1.13)" font-size="11.1" text-anchor="end">1.09</text><text transform="translate(41.4,283.78) scale(1,1.13)" font-size="11.1" text-anchor="end">1.10</text><text transform="translate(41.4,239.72) scale(1,1.13)" font-size="11.1" text-anchor="end">1.11</text><text transform="translate(41.4,195.65) scale(1,1.13)" font-size="11.1" text-anchor="end">1.12</text><polyline points="57.6,249.1 67.59,249.1 77.58,249.1 87.56,249.1 97.55,249.1 107.54,249.1 117.53,249.1 127.51,249.1 137.5,249.1 147.49,249.1 157.47,249.1 167.46,249.1 177.45,249.1" stroke="#404040" stroke-width="1" fill="none"/><path d="M54.1 245.6L61.1 252.6M54.1 252.6L61.1 245.6" stroke="#404040" stroke-width="1.5" fill="none"/><path d="M64.09 245.6L71.09 252.6M64.09 252.6L71.09 245.6" stroke="#404040" stroke-width="1.5" fill="none"/><path d="M74.08 245.6L81.08 252.6M74.08 252.6L81.08 245.6" stroke="#404040" stroke-width="1.5" fill="none"/><path d="M84.06 245.6L91.06 252.6M84.06 252.6L91.06 245.6" stroke="#404040" stroke-width="1.5" fill="none"/><path d="M94.05 245.6L101.05 252.6M94.05 252.6L101.05 245.6" stroke="#404040" stroke-width="1.5" fill="none"/><path d="M104.04 245.6L111.04 252.6M104.04 252.6L111.04 245.6" stroke="#404040" stroke-width="1.5" fill="none"/><path d="M114.03 245.6L121.03 252.6M114.03 252.6L121.03 245.6" stroke="#404040" stroke-width="1.5" fill="none"/><path d="M124.01 245.6L131.01 252.6M124.01 252.6L131.01 245.6" stroke="#404040" stroke-width="1.5" fill="none"/><path d="M134 245.6L141 252.6M134 252.6L141 245.6" stroke="#404040" stroke-width="1.5" fill="none"/><path d="M143.99 245.6L150.99 252.6M143.99 252.6L150.99 245.6" stroke="#404040" stroke-width="1.5" fill="none"/><path d="M153.97 245.6L160.97 252.6M153.97 252.6L160.97 245.6" stroke="#404040" stroke-width="1.5" fill="none"/><path d="M163.96 245.6L170.96 252.6M163.96 252.6L170.96 245.6" stroke="#404040" stroke-width="1.5" fill="none"/><path d="M173.95 245.6L180.95 252.6M173.95 252.6L180.95 245.6" stroke="#404040" stroke-width="1.5" fill="none"/><polyline points="57.6,245.5 67.59,238.2 77.58,236.6 87.56,238.6 97.55,241.6 107.54,243.8 117.53,244.8 127.51,243.8 137.5,241.6 147.49,238.6 157.47,236.6 167.46,238.2 177.45,245.5" stroke="#f51c1c" stroke-width="1" fill="none" stroke-dasharray="3,2"/><circle cx="57.6" cy="245.5" r="2.6" stroke="#f51c1c" stroke-width="1.65" fill="none"/><circle cx="67.59" cy="238.2" r="2.6" stroke="#f51c1c" stroke-width="1.65" fill="none"/><circle cx="77.58" cy="236.6" r="2.6" stroke="#f51c1c" stroke-width="1.65" fill="none"/><circle cx="87.56" cy="238.6" r="2.6" stroke="#f51c1c" stroke-width="1.65" fill="none"/><circle cx="97.55" cy="241.6" r="2.6" stroke="#f51c1c" stroke-width="1.65" fill="none"/><circle cx="107.54" cy="243.8" r="2.6" stroke="#f51c1c" stroke-width="1.65" fill="none"/><circle cx="117.53" cy="244.8" r="2.6" stroke="#f51c1c" stroke-width="1.65" fill="none"/><circle cx="127.51" cy="243.8" r="2.6" stroke="#f51c1c" stroke-width="1.65" fill="none"/><circle cx="137.5" cy="241.6" r="2.6" stroke="#f51c1c" stroke-width="1.65" fill="none"/><circle cx="147.49" cy="238.6" r="2.6" stroke="#f51c1c" stroke-width="1.65" fill="none"/><circle cx="157.47" cy="236.6" r="2.6" stroke="#f51c1c" stroke-width="1.65" fill="none"/><circle cx="167.46" cy="238.2" r="2.6" stroke="#f51c1c" stroke-width="1.65" fill="none"/><circle cx="177.45" cy="245.5" r="2.6" stroke="#f51c1c" stroke-width="1.65" fill="none"/><polyline points="57.6,249.1 67.59,249.1 77.58,249.1 87.56,249.1 97.55,249.1 107.54,249.1 117.53,249.1 127.51,249.1 137.5,249.1 147.49,249.1 157.47,249.1 167.46,249.1 177.45,249.1" stroke="#1f62e0" stroke-width="1" fill="none" stroke-dasharray="1,1.6"/><path d="M57.6 246.6L60.6 251.6L54.6 251.6Z" stroke="#1f62e0" stroke-width="1.5" fill="none" stroke-linejoin="round"/><path d="M67.59 246.6L70.59 251.6L64.59 251.6Z" stroke="#1f62e0" stroke-width="1.5" fill="none" stroke-linejoin="round"/><path d="M77.58 246.6L80.58 251.6L74.58 251.6Z" stroke="#1f62e0" stroke-width="1.5" fill="none" stroke-linejoin="round"/><path d="M87.56 246.6L90.56 251.6L84.56 251.6Z" stroke="#1f62e0" stroke-width="1.5" fill="none" stroke-linejoin="round"/><path d="M97.55 246.6L100.55 251.6L94.55 251.6Z" stroke="#1f62e0" stroke-width="1.5" fill="none" stroke-linejoin="round"/><path d="M107.54 246.6L110.54 251.6L104.54 251.6Z" stroke="#1f62e0" stroke-width="1.5" fill="none" stroke-linejoin="round"/><path d="M117.53 246.6L120.53 251.6L114.53 251.6Z" stroke="#1f62e0" stroke-width="1.5" fill="none" stroke-linejoin="round"/><path d="M127.51 246.6L130.51 251.6L124.51 251.6Z" stroke="#1f62e0" stroke-width="1.5" fill="none" stroke-linejoin="round"/><path d="M137.5 246.6L140.5 251.6L134.5 251.6Z" stroke="#1f62e0" stroke-width="1.5" fill="none" stroke-linejoin="round"/><path d="M147.49 246.6L150.49 251.6L144.49 251.6Z" stroke="#1f62e0" stroke-width="1.5" fill="none" stroke-linejoin="round"/><path d="M157.47 246.6L160.47 251.6L154.47 251.6Z" stroke="#1f62e0" stroke-width="1.5" fill="none" stroke-linejoin="round"/><path d="M167.46 246.6L170.46 251.6L164.46 251.6Z" stroke="#1f62e0" stroke-width="1.5" fill="none" stroke-linejoin="round"/><path d="M177.45 246.6L180.45 251.6L174.45 251.6Z" stroke="#1f62e0" stroke-width="1.5" fill="none" stroke-linejoin="round"/><rect x="47.7" y="194.05" width="139.7" height="132.2" stroke="#000" stroke-width="1.5" fill="none"/><text transform="translate(72.6,186.95) scale(1,1.07)" font-size="12.9">(d) WT1 &amp; θ<tspan font-size="9" dy="2.6">1</tspan><tspan font-size="12" dy="-1.8">=−</tspan><tspan dy="-0.8">15</tspan><tspan font-size="10.5" dy="-0.9">°</tspan></text></g><g><line x1="239.5" y1="194.45" x2="239.5" y2="326.75" stroke="#858585" stroke-width="1"/><line x1="259.5" y1="194.45" x2="259.5" y2="326.75" stroke="#858585" stroke-width="1"/><line x1="279.5" y1="194.45" x2="279.5" y2="326.75" stroke="#858585" stroke-width="1"/><line x1="299.5" y1="194.45" x2="299.5" y2="326.75" stroke="#858585" stroke-width="1"/><line x1="319.5" y1="194.45" x2="319.5" y2="326.75" stroke="#858585" stroke-width="1"/><line x1="338.5" y1="194.45" x2="338.5" y2="326.75" stroke="#858585" stroke-width="1"/><line x1="358.5" y1="194.45" x2="358.5" y2="326.75" stroke="#858585" stroke-width="1"/><line x1="229.3" y1="260.5" x2="368.85" y2="260.5" stroke="#858585" stroke-width="1"/><line x1="239.3" y1="326.75" x2="239.3" y2="321.75" stroke="#000" stroke-width="1.3"/><line x1="239.3" y1="194.45" x2="239.3" y2="199.45" stroke="#000" stroke-width="1.3"/><line x1="249.26" y1="326.75" x2="249.26" y2="324.15" stroke="#000" stroke-width="1.3"/><line x1="249.26" y1="194.45" x2="249.26" y2="197.05" stroke="#000" stroke-width="1.3"/><line x1="259.23" y1="326.75" x2="259.23" y2="321.75" stroke="#000" stroke-width="1.3"/><line x1="259.23" y1="194.45" x2="259.23" y2="199.45" stroke="#000" stroke-width="1.3"/><line x1="269.19" y1="326.75" x2="269.19" y2="324.15" stroke="#000" stroke-width="1.3"/><line x1="269.19" y1="194.45" x2="269.19" y2="197.05" stroke="#000" stroke-width="1.3"/><line x1="279.15" y1="326.75" x2="279.15" y2="321.75" stroke="#000" stroke-width="1.3"/><line x1="279.15" y1="194.45" x2="279.15" y2="199.45" stroke="#000" stroke-width="1.3"/><line x1="289.11" y1="326.75" x2="289.11" y2="324.15" stroke="#000" stroke-width="1.3"/><line x1="289.11" y1="194.45" x2="289.11" y2="197.05" stroke="#000" stroke-width="1.3"/><line x1="299.08" y1="326.75" x2="299.08" y2="321.75" stroke="#000" stroke-width="1.3"/><line x1="299.08" y1="194.45" x2="299.08" y2="199.45" stroke="#000" stroke-width="1.3"/><line x1="309.04" y1="326.75" x2="309.04" y2="324.15" stroke="#000" stroke-width="1.3"/><line x1="309.04" y1="194.45" x2="309.04" y2="197.05" stroke="#000" stroke-width="1.3"/><line x1="319" y1="326.75" x2="319" y2="321.75" stroke="#000" stroke-width="1.3"/><line x1="319" y1="194.45" x2="319" y2="199.45" stroke="#000" stroke-width="1.3"/><line x1="328.96" y1="326.75" x2="328.96" y2="324.15" stroke="#000" stroke-width="1.3"/><line x1="328.96" y1="194.45" x2="328.96" y2="197.05" stroke="#000" stroke-width="1.3"/><line x1="338.93" y1="326.75" x2="338.93" y2="321.75" stroke="#000" stroke-width="1.3"/><line x1="338.93" y1="194.45" x2="338.93" y2="199.45" stroke="#000" stroke-width="1.3"/><line x1="348.89" y1="326.75" x2="348.89" y2="324.15" stroke="#000" stroke-width="1.3"/><line x1="348.89" y1="194.45" x2="348.89" y2="197.05" stroke="#000" stroke-width="1.3"/><line x1="358.85" y1="326.75" x2="358.85" y2="321.75" stroke="#000" stroke-width="1.3"/><line x1="358.85" y1="194.45" x2="358.85" y2="199.45" stroke="#000" stroke-width="1.3"/><line x1="229.3" y1="326.75" x2="234.3" y2="326.75" stroke="#000" stroke-width="1.3"/><line x1="368.85" y1="326.75" x2="363.85" y2="326.75" stroke="#000" stroke-width="1.3"/><line x1="229.3" y1="260.6" x2="234.3" y2="260.6" stroke="#000" stroke-width="1.3"/><line x1="368.85" y1="260.6" x2="363.85" y2="260.6" stroke="#000" stroke-width="1.3"/><line x1="229.3" y1="194.45" x2="234.3" y2="194.45" stroke="#000" stroke-width="1.3"/><line x1="368.85" y1="194.45" x2="363.85" y2="194.45" stroke="#000" stroke-width="1.3"/><line x1="229.3" y1="293.67" x2="231.9" y2="293.67" stroke="#000" stroke-width="1.3"/><line x1="368.85" y1="293.67" x2="366.25" y2="293.67" stroke="#000" stroke-width="1.3"/><line x1="229.3" y1="227.52" x2="231.9" y2="227.52" stroke="#000" stroke-width="1.3"/><line x1="368.85" y1="227.52" x2="366.25" y2="227.52" stroke="#000" stroke-width="1.3"/><text transform="translate(223,328.35) scale(1,1.13)" font-size="11.1" text-anchor="end">0.5</text><text transform="translate(223,262.2) scale(1,1.13)" font-size="11.1" text-anchor="end">0.6</text><text transform="translate(223,196.05) scale(1,1.13)" font-size="11.1" text-anchor="end">0.7</text><polyline points="239.3,270.3 249.26,257.4 259.23,238.7 269.19,231.4 279.15,226.6 289.11,232.2 299.08,232.7 309.04,244 319,257.6 328.96,266 338.93,275.5 348.89,291.6 358.85,309.8" stroke="#404040" stroke-width="1" fill="none"/><path d="M235.8 266.8L242.8 273.8M235.8 273.8L242.8 266.8" stroke="#404040" stroke-width="1.5" fill="none"/><path d="M245.76 253.9L252.76 260.9M245.76 260.9L252.76 253.9" stroke="#404040" stroke-width="1.5" fill="none"/><path d="M255.73 235.2L262.73 242.2M255.73 242.2L262.73 235.2" stroke="#404040" stroke-width="1.5" fill="none"/><path d="M265.69 227.9L272.69 234.9M265.69 234.9L272.69 227.9" stroke="#404040" stroke-width="1.5" fill="none"/><path d="M275.65 223.1L282.65 230.1M275.65 230.1L282.65 223.1" stroke="#404040" stroke-width="1.5" fill="none"/><path d="M285.61 228.7L292.61 235.7M285.61 235.7L292.61 228.7" stroke="#404040" stroke-width="1.5" fill="none"/><path d="M295.58 229.2L302.58 236.2M295.58 236.2L302.58 229.2" stroke="#404040" stroke-width="1.5" fill="none"/><path d="M305.54 240.5L312.54 247.5M305.54 247.5L312.54 240.5" stroke="#404040" stroke-width="1.5" fill="none"/><path d="M315.5 254.1L322.5 261.1M315.5 261.1L322.5 254.1" stroke="#404040" stroke-width="1.5" fill="none"/><path d="M325.46 262.5L332.46 269.5M325.46 269.5L332.46 262.5" stroke="#404040" stroke-width="1.5" fill="none"/><path d="M335.43 272L342.43 279M335.43 279L342.43 272" stroke="#404040" stroke-width="1.5" fill="none"/><path d="M345.39 288.1L352.39 295.1M345.39 295.1L352.39 288.1" stroke="#404040" stroke-width="1.5" fill="none"/><path d="M355.35 306.3L362.35 313.3M355.35 313.3L362.35 306.3" stroke="#404040" stroke-width="1.5" fill="none"/><polyline points="239.3,261 249.26,248.6 259.23,238.7 269.19,232.1 279.15,228.2 289.11,228.6 299.08,230.5 309.04,237.9 319,247.3 328.96,260 338.93,274.2 348.89,291 358.85,309.8" stroke="#f51c1c" stroke-width="1" fill="none" stroke-dasharray="3,2"/><circle cx="239.3" cy="261" r="2.6" stroke="#f51c1c" stroke-width="1.65" fill="none"/><circle cx="249.26" cy="248.6" r="2.6" stroke="#f51c1c" stroke-width="1.65" fill="none"/><circle cx="259.23" cy="238.7" r="2.6" stroke="#f51c1c" stroke-width="1.65" fill="none"/><circle cx="269.19" cy="232.1" r="2.6" stroke="#f51c1c" stroke-width="1.65" fill="none"/><circle cx="279.15" cy="228.2" r="2.6" stroke="#f51c1c" stroke-width="1.65" fill="none"/><circle cx="289.11" cy="228.6" r="2.6" stroke="#f51c1c" stroke-width="1.65" fill="none"/><circle cx="299.08" cy="230.5" r="2.6" stroke="#f51c1c" stroke-width="1.65" fill="none"/><circle cx="309.04" cy="237.9" r="2.6" stroke="#f51c1c" stroke-width="1.65" fill="none"/><circle cx="319" cy="247.3" r="2.6" stroke="#f51c1c" stroke-width="1.65" fill="none"/><circle cx="328.96" cy="260" r="2.6" stroke="#f51c1c" stroke-width="1.65" fill="none"/><circle cx="338.93" cy="274.2" r="2.6" stroke="#f51c1c" stroke-width="1.65" fill="none"/><circle cx="348.89" cy="291" r="2.6" stroke="#f51c1c" stroke-width="1.65" fill="none"/><circle cx="358.85" cy="309.8" r="2.6" stroke="#f51c1c" stroke-width="1.65" fill="none"/><polyline points="239.3,270.9 249.26,264.3 259.23,258.4 269.19,251.8 279.15,245.3 289.11,239.3 299.08,232.7 309.04,245.8 319,258 328.96,271 338.93,284.1 348.89,297 358.85,310.3" stroke="#1f62e0" stroke-width="1" fill="none" stroke-dasharray="1,1.6"/><path d="M239.3 268.4L242.3 273.4L236.3 273.4Z" stroke="#1f62e0" stroke-width="1.5" fill="none" stroke-linejoin="round"/><path d="M249.26 261.8L252.26 266.8L246.26 266.8Z" stroke="#1f62e0" stroke-width="1.5" fill="none" stroke-linejoin="round"/><path d="M259.23 255.9L262.23 260.9L256.23 260.9Z" stroke="#1f62e0" stroke-width="1.5" fill="none" stroke-linejoin="round"/><path d="M269.19 249.3L272.19 254.3L266.19 254.3Z" stroke="#1f62e0" stroke-width="1.5" fill="none" stroke-linejoin="round"/><path d="M279.15 242.8L282.15 247.8L276.15 247.8Z" stroke="#1f62e0" stroke-width="1.5" fill="none" stroke-linejoin="round"/><path d="M289.11 236.8L292.11 241.8L286.11 241.8Z" stroke="#1f62e0" stroke-width="1.5" fill="none" stroke-linejoin="round"/><path d="M299.08 230.2L302.08 235.2L296.08 235.2Z" stroke="#1f62e0" stroke-width="1.5" fill="none" stroke-linejoin="round"/><path d="M309.04 243.3L312.04 248.3L306.04 248.3Z" stroke="#1f62e0" stroke-width="1.5" fill="none" stroke-linejoin="round"/><path d="M319 255.5L322 260.5L316 260.5Z" stroke="#1f62e0" stroke-width="1.5" fill="none" stroke-linejoin="round"/><path d="M328.96 268.5L331.96 273.5L325.96 273.5Z" stroke="#1f62e0" stroke-width="1.5" fill="none" stroke-linejoin="round"/><path d="M338.93 281.6L341.93 286.6L335.93 286.6Z" stroke="#1f62e0" stroke-width="1.5" fill="none" stroke-linejoin="round"/><path d="M348.89 294.5L351.89 299.5L345.89 299.5Z" stroke="#1f62e0" stroke-width="1.5" fill="none" stroke-linejoin="round"/><path d="M358.85 307.8L361.85 312.8L355.85 312.8Z" stroke="#1f62e0" stroke-width="1.5" fill="none" stroke-linejoin="round"/><rect x="229.3" y="194.45" width="139.55" height="132.3" stroke="#000" stroke-width="1.5" fill="none"/><text transform="translate(240,186.7) scale(1,1.07)" font-size="12.9">(e) WT2 &amp; θ<tspan font-size="9" dy="2.6">1</tspan><tspan font-size="12" dy="-1.8">=−</tspan><tspan dy="-0.8">15</tspan><tspan font-size="10.5" dy="-0.9">°</tspan></text></g><g><line x1="413.5" y1="196.65" x2="413.5" y2="329.05" stroke="#858585" stroke-width="1"/><line x1="433.5" y1="196.65" x2="433.5" y2="329.05" stroke="#858585" stroke-width="1"/><line x1="453.5" y1="196.65" x2="453.5" y2="329.05" stroke="#858585" stroke-width="1"/><line x1="473.5" y1="196.65" x2="473.5" y2="329.05" stroke="#858585" stroke-width="1"/><line x1="493.5" y1="196.65" x2="493.5" y2="329.05" stroke="#858585" stroke-width="1"/><line x1="513.5" y1="196.65" x2="513.5" y2="329.05" stroke="#858585" stroke-width="1"/><line x1="533.5" y1="196.65" x2="533.5" y2="329.05" stroke="#858585" stroke-width="1"/><line x1="403.95" y1="284.5" x2="543.4" y2="284.5" stroke="#858585" stroke-width="1"/><line x1="403.95" y1="240.5" x2="543.4" y2="240.5" stroke="#858585" stroke-width="1"/><line x1="413.95" y1="329.05" x2="413.95" y2="324.05" stroke="#000" stroke-width="1.3"/><line x1="413.95" y1="196.65" x2="413.95" y2="201.65" stroke="#000" stroke-width="1.3"/><line x1="423.91" y1="329.05" x2="423.91" y2="326.45" stroke="#000" stroke-width="1.3"/><line x1="423.91" y1="196.65" x2="423.91" y2="199.25" stroke="#000" stroke-width="1.3"/><line x1="433.87" y1="329.05" x2="433.87" y2="324.05" stroke="#000" stroke-width="1.3"/><line x1="433.87" y1="196.65" x2="433.87" y2="201.65" stroke="#000" stroke-width="1.3"/><line x1="443.82" y1="329.05" x2="443.82" y2="326.45" stroke="#000" stroke-width="1.3"/><line x1="443.82" y1="196.65" x2="443.82" y2="199.25" stroke="#000" stroke-width="1.3"/><line x1="453.78" y1="329.05" x2="453.78" y2="324.05" stroke="#000" stroke-width="1.3"/><line x1="453.78" y1="196.65" x2="453.78" y2="201.65" stroke="#000" stroke-width="1.3"/><line x1="463.74" y1="329.05" x2="463.74" y2="326.45" stroke="#000" stroke-width="1.3"/><line x1="463.74" y1="196.65" x2="463.74" y2="199.25" stroke="#000" stroke-width="1.3"/><line x1="473.7" y1="329.05" x2="473.7" y2="324.05" stroke="#000" stroke-width="1.3"/><line x1="473.7" y1="196.65" x2="473.7" y2="201.65" stroke="#000" stroke-width="1.3"/><line x1="483.66" y1="329.05" x2="483.66" y2="326.45" stroke="#000" stroke-width="1.3"/><line x1="483.66" y1="196.65" x2="483.66" y2="199.25" stroke="#000" stroke-width="1.3"/><line x1="493.62" y1="329.05" x2="493.62" y2="324.05" stroke="#000" stroke-width="1.3"/><line x1="493.62" y1="196.65" x2="493.62" y2="201.65" stroke="#000" stroke-width="1.3"/><line x1="503.58" y1="329.05" x2="503.58" y2="326.45" stroke="#000" stroke-width="1.3"/><line x1="503.58" y1="196.65" x2="503.58" y2="199.25" stroke="#000" stroke-width="1.3"/><line x1="513.53" y1="329.05" x2="513.53" y2="324.05" stroke="#000" stroke-width="1.3"/><line x1="513.53" y1="196.65" x2="513.53" y2="201.65" stroke="#000" stroke-width="1.3"/><line x1="523.49" y1="329.05" x2="523.49" y2="326.45" stroke="#000" stroke-width="1.3"/><line x1="523.49" y1="196.65" x2="523.49" y2="199.25" stroke="#000" stroke-width="1.3"/><line x1="533.45" y1="329.05" x2="533.45" y2="324.05" stroke="#000" stroke-width="1.3"/><line x1="533.45" y1="196.65" x2="533.45" y2="201.65" stroke="#000" stroke-width="1.3"/><line x1="403.95" y1="329.05" x2="408.95" y2="329.05" stroke="#000" stroke-width="1.3"/><line x1="543.4" y1="329.05" x2="538.4" y2="329.05" stroke="#000" stroke-width="1.3"/><line x1="403.95" y1="284.92" x2="408.95" y2="284.92" stroke="#000" stroke-width="1.3"/><line x1="543.4" y1="284.92" x2="538.4" y2="284.92" stroke="#000" stroke-width="1.3"/><line x1="403.95" y1="240.78" x2="408.95" y2="240.78" stroke="#000" stroke-width="1.3"/><line x1="543.4" y1="240.78" x2="538.4" y2="240.78" stroke="#000" stroke-width="1.3"/><line x1="403.95" y1="196.65" x2="408.95" y2="196.65" stroke="#000" stroke-width="1.3"/><line x1="543.4" y1="196.65" x2="538.4" y2="196.65" stroke="#000" stroke-width="1.3"/><line x1="403.95" y1="306.98" x2="406.55" y2="306.98" stroke="#000" stroke-width="1.3"/><line x1="543.4" y1="306.98" x2="540.8" y2="306.98" stroke="#000" stroke-width="1.3"/><line x1="403.95" y1="262.85" x2="406.55" y2="262.85" stroke="#000" stroke-width="1.3"/><line x1="543.4" y1="262.85" x2="540.8" y2="262.85" stroke="#000" stroke-width="1.3"/><line x1="403.95" y1="218.72" x2="406.55" y2="218.72" stroke="#000" stroke-width="1.3"/><line x1="543.4" y1="218.72" x2="540.8" y2="218.72" stroke="#000" stroke-width="1.3"/><text transform="translate(397.65,330.65) scale(1,1.13)" font-size="11.1" text-anchor="end">0.4</text><text transform="translate(397.65,286.52) scale(1,1.13)" font-size="11.1" text-anchor="end">0.6</text><text transform="translate(397.65,242.38) scale(1,1.13)" font-size="11.1" text-anchor="end">0.8</text><text transform="translate(397.65,198.25) scale(1,1.13)" font-size="11.1" text-anchor="end">1.0</text><polyline points="413.95,211.3 423.91,240.5 433.87,271.3 443.82,289.5 453.78,300.5 463.74,305.9 473.7,310 483.66,310 493.62,311.4 503.58,316.8 513.53,309.5 523.49,308.6 533.45,296.9" stroke="#404040" stroke-width="1" fill="none"/><path d="M410.45 207.8L417.45 214.8M410.45 214.8L417.45 207.8" stroke="#404040" stroke-width="1.5" fill="none"/><path d="M420.41 237L427.41 244M420.41 244L427.41 237" stroke="#404040" stroke-width="1.5" fill="none"/><path d="M430.37 267.8L437.37 274.8M430.37 274.8L437.37 267.8" stroke="#404040" stroke-width="1.5" fill="none"/><path d="M440.32 286L447.32 293M440.32 293L447.32 286" stroke="#404040" stroke-width="1.5" fill="none"/><path d="M450.28 297L457.28 304M450.28 304L457.28 297" stroke="#404040" stroke-width="1.5" fill="none"/><path d="M460.24 302.4L467.24 309.4M460.24 309.4L467.24 302.4" stroke="#404040" stroke-width="1.5" fill="none"/><path d="M470.2 306.5L477.2 313.5M470.2 313.5L477.2 306.5" stroke="#404040" stroke-width="1.5" fill="none"/><path d="M480.16 306.5L487.16 313.5M480.16 313.5L487.16 306.5" stroke="#404040" stroke-width="1.5" fill="none"/><path d="M490.12 307.9L497.12 314.9M490.12 314.9L497.12 307.9" stroke="#404040" stroke-width="1.5" fill="none"/><path d="M500.08 313.3L507.08 320.3M500.08 320.3L507.08 313.3" stroke="#404040" stroke-width="1.5" fill="none"/><path d="M510.03 306L517.03 313M510.03 313L517.03 306" stroke="#404040" stroke-width="1.5" fill="none"/><path d="M519.99 305.1L526.99 312.1M519.99 312.1L526.99 305.1" stroke="#404040" stroke-width="1.5" fill="none"/><path d="M529.95 293.4L536.95 300.4M529.95 300.4L536.95 293.4" stroke="#404040" stroke-width="1.5" fill="none"/><polyline points="413.95,211.3 423.91,232.3 433.87,252.7 443.82,271.3 453.78,287.6 463.74,301.3 473.7,310 483.66,316.8 493.62,319.5 503.58,318.7 513.53,314.4 523.49,307.8 533.45,297.2" stroke="#f51c1c" stroke-width="1" fill="none" stroke-dasharray="3,2"/><circle cx="413.95" cy="211.3" r="2.6" stroke="#f51c1c" stroke-width="1.65" fill="none"/><circle cx="423.91" cy="232.3" r="2.6" stroke="#f51c1c" stroke-width="1.65" fill="none"/><circle cx="433.87" cy="252.7" r="2.6" stroke="#f51c1c" stroke-width="1.65" fill="none"/><circle cx="443.82" cy="271.3" r="2.6" stroke="#f51c1c" stroke-width="1.65" fill="none"/><circle cx="453.78" cy="287.6" r="2.6" stroke="#f51c1c" stroke-width="1.65" fill="none"/><circle cx="463.74" cy="301.3" r="2.6" stroke="#f51c1c" stroke-width="1.65" fill="none"/><circle cx="473.7" cy="310" r="2.6" stroke="#f51c1c" stroke-width="1.65" fill="none"/><circle cx="483.66" cy="316.8" r="2.6" stroke="#f51c1c" stroke-width="1.65" fill="none"/><circle cx="493.62" cy="319.5" r="2.6" stroke="#f51c1c" stroke-width="1.65" fill="none"/><circle cx="503.58" cy="318.7" r="2.6" stroke="#f51c1c" stroke-width="1.65" fill="none"/><circle cx="513.53" cy="314.4" r="2.6" stroke="#f51c1c" stroke-width="1.65" fill="none"/><circle cx="523.49" cy="307.8" r="2.6" stroke="#f51c1c" stroke-width="1.65" fill="none"/><circle cx="533.45" cy="297.2" r="2.6" stroke="#f51c1c" stroke-width="1.65" fill="none"/><polyline points="413.95,211.3 423.91,228.2 433.87,244.5 443.82,261.5 453.78,277.3 463.74,293.6 473.7,310 483.66,308.1 493.62,305.9 503.58,302.6 513.53,301 523.49,299.1 533.45,296.9" stroke="#1f62e0" stroke-width="1" fill="none" stroke-dasharray="1,1.6"/><path d="M413.95 208.8L416.95 213.8L410.95 213.8Z" stroke="#1f62e0" stroke-width="1.5" fill="none" stroke-linejoin="round"/><path d="M423.91 225.7L426.91 230.7L420.91 230.7Z" stroke="#1f62e0" stroke-width="1.5" fill="none" stroke-linejoin="round"/><path d="M433.87 242L436.87 247L430.87 247Z" stroke="#1f62e0" stroke-width="1.5" fill="none" stroke-linejoin="round"/><path d="M443.82 259L446.82 264L440.82 264Z" stroke="#1f62e0" stroke-width="1.5" fill="none" stroke-linejoin="round"/><path d="M453.78 274.8L456.78 279.8L450.78 279.8Z" stroke="#1f62e0" stroke-width="1.5" fill="none" stroke-linejoin="round"/><path d="M463.74 291.1L466.74 296.1L460.74 296.1Z" stroke="#1f62e0" stroke-width="1.5" fill="none" stroke-linejoin="round"/><path d="M473.7 307.5L476.7 312.5L470.7 312.5Z" stroke="#1f62e0" stroke-width="1.5" fill="none" stroke-linejoin="round"/><path d="M483.66 305.6L486.66 310.6L480.66 310.6Z" stroke="#1f62e0" stroke-width="1.5" fill="none" stroke-linejoin="round"/><path d="M493.62 303.4L496.62 308.4L490.62 308.4Z" stroke="#1f62e0" stroke-width="1.5" fill="none" stroke-linejoin="round"/><path d="M503.58 300.1L506.58 305.1L500.58 305.1Z" stroke="#1f62e0" stroke-width="1.5" fill="none" stroke-linejoin="round"/><path d="M513.53 298.5L516.53 303.5L510.53 303.5Z" stroke="#1f62e0" stroke-width="1.5" fill="none" stroke-linejoin="round"/><path d="M523.49 296.6L526.49 301.6L520.49 301.6Z" stroke="#1f62e0" stroke-width="1.5" fill="none" stroke-linejoin="round"/><path d="M533.45 294.4L536.45 299.4L530.45 299.4Z" stroke="#1f62e0" stroke-width="1.5" fill="none" stroke-linejoin="round"/><rect x="403.95" y="196.65" width="139.45" height="132.4" stroke="#000" stroke-width="1.5" fill="none"/><text transform="translate(425.9,187) scale(1,1.07)" font-size="12.9">(f) WT3 &amp; θ<tspan font-size="9" dy="2.6">1</tspan><tspan font-size="12" dy="-1.8">=−</tspan><tspan dy="-0.8">15</tspan><tspan font-size="10.5" dy="-0.9">°</tspan></text></g><g><line x1="57.5" y1="355.45" x2="57.5" y2="487.65" stroke="#858585" stroke-width="1"/><line x1="77.5" y1="355.45" x2="77.5" y2="487.65" stroke="#858585" stroke-width="1"/><line x1="97.5" y1="355.45" x2="97.5" y2="487.65" stroke="#858585" stroke-width="1"/><line x1="117.5" y1="355.45" x2="117.5" y2="487.65" stroke="#858585" stroke-width="1"/><line x1="137.5" y1="355.45" x2="137.5" y2="487.65" stroke="#858585" stroke-width="1"/><line x1="157.5" y1="355.45" x2="157.5" y2="487.65" stroke="#858585" stroke-width="1"/><line x1="177.5" y1="355.45" x2="177.5" y2="487.65" stroke="#858585" stroke-width="1"/><line x1="47.7" y1="421.5" x2="187.45" y2="421.5" stroke="#858585" stroke-width="1"/><line x1="57.6" y1="487.65" x2="57.6" y2="482.65" stroke="#000" stroke-width="1.3"/><line x1="57.6" y1="355.45" x2="57.6" y2="360.45" stroke="#000" stroke-width="1.3"/><line x1="67.59" y1="487.65" x2="67.59" y2="485.05" stroke="#000" stroke-width="1.3"/><line x1="67.59" y1="355.45" x2="67.59" y2="358.05" stroke="#000" stroke-width="1.3"/><line x1="77.58" y1="487.65" x2="77.58" y2="482.65" stroke="#000" stroke-width="1.3"/><line x1="77.58" y1="355.45" x2="77.58" y2="360.45" stroke="#000" stroke-width="1.3"/><line x1="87.56" y1="487.65" x2="87.56" y2="485.05" stroke="#000" stroke-width="1.3"/><line x1="87.56" y1="355.45" x2="87.56" y2="358.05" stroke="#000" stroke-width="1.3"/><line x1="97.55" y1="487.65" x2="97.55" y2="482.65" stroke="#000" stroke-width="1.3"/><line x1="97.55" y1="355.45" x2="97.55" y2="360.45" stroke="#000" stroke-width="1.3"/><line x1="107.54" y1="487.65" x2="107.54" y2="485.05" stroke="#000" stroke-width="1.3"/><line x1="107.54" y1="355.45" x2="107.54" y2="358.05" stroke="#000" stroke-width="1.3"/><line x1="117.53" y1="487.65" x2="117.53" y2="482.65" stroke="#000" stroke-width="1.3"/><line x1="117.53" y1="355.45" x2="117.53" y2="360.45" stroke="#000" stroke-width="1.3"/><line x1="127.51" y1="487.65" x2="127.51" y2="485.05" stroke="#000" stroke-width="1.3"/><line x1="127.51" y1="355.45" x2="127.51" y2="358.05" stroke="#000" stroke-width="1.3"/><line x1="137.5" y1="487.65" x2="137.5" y2="482.65" stroke="#000" stroke-width="1.3"/><line x1="137.5" y1="355.45" x2="137.5" y2="360.45" stroke="#000" stroke-width="1.3"/><line x1="147.49" y1="487.65" x2="147.49" y2="485.05" stroke="#000" stroke-width="1.3"/><line x1="147.49" y1="355.45" x2="147.49" y2="358.05" stroke="#000" stroke-width="1.3"/><line x1="157.47" y1="487.65" x2="157.47" y2="482.65" stroke="#000" stroke-width="1.3"/><line x1="157.47" y1="355.45" x2="157.47" y2="360.45" stroke="#000" stroke-width="1.3"/><line x1="167.46" y1="487.65" x2="167.46" y2="485.05" stroke="#000" stroke-width="1.3"/><line x1="167.46" y1="355.45" x2="167.46" y2="358.05" stroke="#000" stroke-width="1.3"/><line x1="177.45" y1="487.65" x2="177.45" y2="482.65" stroke="#000" stroke-width="1.3"/><line x1="177.45" y1="355.45" x2="177.45" y2="360.45" stroke="#000" stroke-width="1.3"/><line x1="47.7" y1="487.65" x2="52.7" y2="487.65" stroke="#000" stroke-width="1.3"/><line x1="187.45" y1="487.65" x2="182.45" y2="487.65" stroke="#000" stroke-width="1.3"/><line x1="47.7" y1="421.55" x2="52.7" y2="421.55" stroke="#000" stroke-width="1.3"/><line x1="187.45" y1="421.55" x2="182.45" y2="421.55" stroke="#000" stroke-width="1.3"/><line x1="47.7" y1="355.45" x2="52.7" y2="355.45" stroke="#000" stroke-width="1.3"/><line x1="187.45" y1="355.45" x2="182.45" y2="355.45" stroke="#000" stroke-width="1.3"/><line x1="47.7" y1="454.6" x2="50.3" y2="454.6" stroke="#000" stroke-width="1.3"/><line x1="187.45" y1="454.6" x2="184.85" y2="454.6" stroke="#000" stroke-width="1.3"/><line x1="47.7" y1="388.5" x2="50.3" y2="388.5" stroke="#000" stroke-width="1.3"/><line x1="187.45" y1="388.5" x2="184.85" y2="388.5" stroke="#000" stroke-width="1.3"/><text transform="translate(41.4,489.25) scale(1,1.13)" font-size="11.1" text-anchor="end">0.99</text><text transform="translate(41.4,423.15) scale(1,1.13)" font-size="11.1" text-anchor="end">1.00</text><text transform="translate(41.4,357.05) scale(1,1.13)" font-size="11.1" text-anchor="end">1.01</text><polyline points="57.6,421.4 67.59,421.4 77.58,421.4 87.56,421.4 97.55,421.4 107.54,421.4 117.53,421.4 127.51,421.4 137.5,421.4 147.49,421.4 157.47,421.4 167.46,421.4 177.45,421.4" stroke="#404040" stroke-width="1" fill="none"/><path d="M54.1 417.9L61.1 424.9M54.1 424.9L61.1 417.9" stroke="#404040" stroke-width="1.5" fill="none"/><path d="M64.09 417.9L71.09 424.9M64.09 424.9L71.09 417.9" stroke="#404040" stroke-width="1.5" fill="none"/><path d="M74.08 417.9L81.08 424.9M74.08 424.9L81.08 417.9" stroke="#404040" stroke-width="1.5" fill="none"/><path d="M84.06 417.9L91.06 424.9M84.06 424.9L91.06 417.9" stroke="#404040" stroke-width="1.5" fill="none"/><path d="M94.05 417.9L101.05 424.9M94.05 424.9L101.05 417.9" stroke="#404040" stroke-width="1.5" fill="none"/><path d="M104.04 417.9L111.04 424.9M104.04 424.9L111.04 417.9" stroke="#404040" stroke-width="1.5" fill="none"/><path d="M114.03 417.9L121.03 424.9M114.03 424.9L121.03 417.9" stroke="#404040" stroke-width="1.5" fill="none"/><path d="M124.01 417.9L131.01 424.9M124.01 424.9L131.01 417.9" stroke="#404040" stroke-width="1.5" fill="none"/><path d="M134 417.9L141 424.9M134 424.9L141 417.9" stroke="#404040" stroke-width="1.5" fill="none"/><path d="M143.99 417.9L150.99 424.9M143.99 424.9L150.99 417.9" stroke="#404040" stroke-width="1.5" fill="none"/><path d="M153.97 417.9L160.97 424.9M153.97 424.9L160.97 417.9" stroke="#404040" stroke-width="1.5" fill="none"/><path d="M163.96 417.9L170.96 424.9M163.96 424.9L170.96 417.9" stroke="#404040" stroke-width="1.5" fill="none"/><path d="M173.95 417.9L180.95 424.9M173.95 424.9L180.95 417.9" stroke="#404040" stroke-width="1.5" fill="none"/><polyline points="57.6,403.5 67.59,393.3 77.58,391.4 87.56,394.6 97.55,398.9 107.54,402.7 117.53,404 127.51,402.7 137.5,398.9 147.49,394.6 157.47,391.4 167.46,393.3 177.45,403.5" stroke="#f51c1c" stroke-width="1" fill="none" stroke-dasharray="3,2"/><circle cx="57.6" cy="403.5" r="2.6" stroke="#f51c1c" stroke-width="1.65" fill="none"/><circle cx="67.59" cy="393.3" r="2.6" stroke="#f51c1c" stroke-width="1.65" fill="none"/><circle cx="77.58" cy="391.4" r="2.6" stroke="#f51c1c" stroke-width="1.65" fill="none"/><circle cx="87.56" cy="394.6" r="2.6" stroke="#f51c1c" stroke-width="1.65" fill="none"/><circle cx="97.55" cy="398.9" r="2.6" stroke="#f51c1c" stroke-width="1.65" fill="none"/><circle cx="107.54" cy="402.7" r="2.6" stroke="#f51c1c" stroke-width="1.65" fill="none"/><circle cx="117.53" cy="404" r="2.6" stroke="#f51c1c" stroke-width="1.65" fill="none"/><circle cx="127.51" cy="402.7" r="2.6" stroke="#f51c1c" stroke-width="1.65" fill="none"/><circle cx="137.5" cy="398.9" r="2.6" stroke="#f51c1c" stroke-width="1.65" fill="none"/><circle cx="147.49" cy="394.6" r="2.6" stroke="#f51c1c" stroke-width="1.65" fill="none"/><circle cx="157.47" cy="391.4" r="2.6" stroke="#f51c1c" stroke-width="1.65" fill="none"/><circle cx="167.46" cy="393.3" r="2.6" stroke="#f51c1c" stroke-width="1.65" fill="none"/><circle cx="177.45" cy="403.5" r="2.6" stroke="#f51c1c" stroke-width="1.65" fill="none"/><polyline points="57.6,421.4 67.59,421.4 77.58,421.4 87.56,421.4 97.55,421.4 107.54,421.4 117.53,421.4 127.51,421.4 137.5,421.4 147.49,421.4 157.47,421.4 167.46,421.4 177.45,421.4" stroke="#1f62e0" stroke-width="1" fill="none" stroke-dasharray="1,1.6"/><path d="M57.6 418.9L60.6 423.9L54.6 423.9Z" stroke="#1f62e0" stroke-width="1.5" fill="none" stroke-linejoin="round"/><path d="M67.59 418.9L70.59 423.9L64.59 423.9Z" stroke="#1f62e0" stroke-width="1.5" fill="none" stroke-linejoin="round"/><path d="M77.58 418.9L80.58 423.9L74.58 423.9Z" stroke="#1f62e0" stroke-width="1.5" fill="none" stroke-linejoin="round"/><path d="M87.56 418.9L90.56 423.9L84.56 423.9Z" stroke="#1f62e0" stroke-width="1.5" fill="none" stroke-linejoin="round"/><path d="M97.55 418.9L100.55 423.9L94.55 423.9Z" stroke="#1f62e0" stroke-width="1.5" fill="none" stroke-linejoin="round"/><path d="M107.54 418.9L110.54 423.9L104.54 423.9Z" stroke="#1f62e0" stroke-width="1.5" fill="none" stroke-linejoin="round"/><path d="M117.53 418.9L120.53 423.9L114.53 423.9Z" stroke="#1f62e0" stroke-width="1.5" fill="none" stroke-linejoin="round"/><path d="M127.51 418.9L130.51 423.9L124.51 423.9Z" stroke="#1f62e0" stroke-width="1.5" fill="none" stroke-linejoin="round"/><path d="M137.5 418.9L140.5 423.9L134.5 423.9Z" stroke="#1f62e0" stroke-width="1.5" fill="none" stroke-linejoin="round"/><path d="M147.49 418.9L150.49 423.9L144.49 423.9Z" stroke="#1f62e0" stroke-width="1.5" fill="none" stroke-linejoin="round"/><path d="M157.47 418.9L160.47 423.9L154.47 423.9Z" stroke="#1f62e0" stroke-width="1.5" fill="none" stroke-linejoin="round"/><path d="M167.46 418.9L170.46 423.9L164.46 423.9Z" stroke="#1f62e0" stroke-width="1.5" fill="none" stroke-linejoin="round"/><path d="M177.45 418.9L180.45 423.9L174.45 423.9Z" stroke="#1f62e0" stroke-width="1.5" fill="none" stroke-linejoin="round"/><rect x="47.7" y="355.45" width="139.75" height="132.2" stroke="#000" stroke-width="1.5" fill="none"/><text transform="translate(74.7,347.5) scale(1,1.07)" font-size="12.9">(g) WT1 &amp; θ<tspan font-size="9" dy="2.6">1</tspan><tspan font-size="12" dy="-1.8">=</tspan><tspan dy="-0.8">0</tspan><tspan font-size="10.5" dy="-0.9">°</tspan></text><text x="57.6" y="503" font-size="11.4" text-anchor="middle">-30</text><text x="77.58" y="503" font-size="11.4" text-anchor="middle">-20</text><text x="97.55" y="503" font-size="11.4" text-anchor="middle">-10</text><text x="117.53" y="503" font-size="11.4" text-anchor="middle">0</text><text x="137.5" y="503" font-size="11.4" text-anchor="middle">10</text><text x="157.47" y="503" font-size="11.4" text-anchor="middle">20</text><text x="177.45" y="503" font-size="11.4" text-anchor="middle">30</text><text x="35.6" y="521.3" font-size="11.6" xml:space="preserve">Yaw angle of turbine 2  (degree)</text></g><g><line x1="240.5" y1="357.15" x2="240.5" y2="489.35" stroke="#858585" stroke-width="1"/><line x1="260.5" y1="357.15" x2="260.5" y2="489.35" stroke="#858585" stroke-width="1"/><line x1="279.5" y1="357.15" x2="279.5" y2="489.35" stroke="#858585" stroke-width="1"/><line x1="299.5" y1="357.15" x2="299.5" y2="489.35" stroke="#858585" stroke-width="1"/><line x1="319.5" y1="357.15" x2="319.5" y2="489.35" stroke="#858585" stroke-width="1"/><line x1="339.5" y1="357.15" x2="339.5" y2="489.35" stroke="#858585" stroke-width="1"/><line x1="359.5" y1="357.15" x2="359.5" y2="489.35" stroke="#858585" stroke-width="1"/><line x1="230.15" y1="462.5" x2="369.5" y2="462.5" stroke="#858585" stroke-width="1"/><line x1="230.15" y1="436.5" x2="369.5" y2="436.5" stroke="#858585" stroke-width="1"/><line x1="230.15" y1="410.5" x2="369.5" y2="410.5" stroke="#858585" stroke-width="1"/><line x1="230.15" y1="383.5" x2="369.5" y2="383.5" stroke="#858585" stroke-width="1"/><line x1="240.1" y1="489.35" x2="240.1" y2="484.35" stroke="#000" stroke-width="1.3"/><line x1="240.1" y1="357.15" x2="240.1" y2="362.15" stroke="#000" stroke-width="1.3"/><line x1="250.05" y1="489.35" x2="250.05" y2="486.75" stroke="#000" stroke-width="1.3"/><line x1="250.05" y1="357.15" x2="250.05" y2="359.75" stroke="#000" stroke-width="1.3"/><line x1="260.01" y1="489.35" x2="260.01" y2="484.35" stroke="#000" stroke-width="1.3"/><line x1="260.01" y1="357.15" x2="260.01" y2="362.15" stroke="#000" stroke-width="1.3"/><line x1="269.96" y1="489.35" x2="269.96" y2="486.75" stroke="#000" stroke-width="1.3"/><line x1="269.96" y1="357.15" x2="269.96" y2="359.75" stroke="#000" stroke-width="1.3"/><line x1="279.92" y1="489.35" x2="279.92" y2="484.35" stroke="#000" stroke-width="1.3"/><line x1="279.92" y1="357.15" x2="279.92" y2="362.15" stroke="#000" stroke-width="1.3"/><line x1="289.87" y1="489.35" x2="289.87" y2="486.75" stroke="#000" stroke-width="1.3"/><line x1="289.87" y1="357.15" x2="289.87" y2="359.75" stroke="#000" stroke-width="1.3"/><line x1="299.82" y1="489.35" x2="299.82" y2="484.35" stroke="#000" stroke-width="1.3"/><line x1="299.82" y1="357.15" x2="299.82" y2="362.15" stroke="#000" stroke-width="1.3"/><line x1="309.78" y1="489.35" x2="309.78" y2="486.75" stroke="#000" stroke-width="1.3"/><line x1="309.78" y1="357.15" x2="309.78" y2="359.75" stroke="#000" stroke-width="1.3"/><line x1="319.73" y1="489.35" x2="319.73" y2="484.35" stroke="#000" stroke-width="1.3"/><line x1="319.73" y1="357.15" x2="319.73" y2="362.15" stroke="#000" stroke-width="1.3"/><line x1="329.69" y1="489.35" x2="329.69" y2="486.75" stroke="#000" stroke-width="1.3"/><line x1="329.69" y1="357.15" x2="329.69" y2="359.75" stroke="#000" stroke-width="1.3"/><line x1="339.64" y1="489.35" x2="339.64" y2="484.35" stroke="#000" stroke-width="1.3"/><line x1="339.64" y1="357.15" x2="339.64" y2="362.15" stroke="#000" stroke-width="1.3"/><line x1="349.6" y1="489.35" x2="349.6" y2="486.75" stroke="#000" stroke-width="1.3"/><line x1="349.6" y1="357.15" x2="349.6" y2="359.75" stroke="#000" stroke-width="1.3"/><line x1="359.55" y1="489.35" x2="359.55" y2="484.35" stroke="#000" stroke-width="1.3"/><line x1="359.55" y1="357.15" x2="359.55" y2="362.15" stroke="#000" stroke-width="1.3"/><line x1="230.15" y1="489.35" x2="235.15" y2="489.35" stroke="#000" stroke-width="1.3"/><line x1="369.5" y1="489.35" x2="364.5" y2="489.35" stroke="#000" stroke-width="1.3"/><line x1="230.15" y1="462.91" x2="235.15" y2="462.91" stroke="#000" stroke-width="1.3"/><line x1="369.5" y1="462.91" x2="364.5" y2="462.91" stroke="#000" stroke-width="1.3"/><line x1="230.15" y1="436.47" x2="235.15" y2="436.47" stroke="#000" stroke-width="1.3"/><line x1="369.5" y1="436.47" x2="364.5" y2="436.47" stroke="#000" stroke-width="1.3"/><line x1="230.15" y1="410.03" x2="235.15" y2="410.03" stroke="#000" stroke-width="1.3"/><line x1="369.5" y1="410.03" x2="364.5" y2="410.03" stroke="#000" stroke-width="1.3"/><line x1="230.15" y1="383.59" x2="235.15" y2="383.59" stroke="#000" stroke-width="1.3"/><line x1="369.5" y1="383.59" x2="364.5" y2="383.59" stroke="#000" stroke-width="1.3"/><line x1="230.15" y1="357.15" x2="235.15" y2="357.15" stroke="#000" stroke-width="1.3"/><line x1="369.5" y1="357.15" x2="364.5" y2="357.15" stroke="#000" stroke-width="1.3"/><line x1="230.15" y1="476.13" x2="232.75" y2="476.13" stroke="#000" stroke-width="1.3"/><line x1="369.5" y1="476.13" x2="366.9" y2="476.13" stroke="#000" stroke-width="1.3"/><line x1="230.15" y1="449.69" x2="232.75" y2="449.69" stroke="#000" stroke-width="1.3"/><line x1="369.5" y1="449.69" x2="366.9" y2="449.69" stroke="#000" stroke-width="1.3"/><line x1="230.15" y1="423.25" x2="232.75" y2="423.25" stroke="#000" stroke-width="1.3"/><line x1="369.5" y1="423.25" x2="366.9" y2="423.25" stroke="#000" stroke-width="1.3"/><line x1="230.15" y1="396.81" x2="232.75" y2="396.81" stroke="#000" stroke-width="1.3"/><line x1="369.5" y1="396.81" x2="366.9" y2="396.81" stroke="#000" stroke-width="1.3"/><line x1="230.15" y1="370.37" x2="232.75" y2="370.37" stroke="#000" stroke-width="1.3"/><line x1="369.5" y1="370.37" x2="366.9" y2="370.37" stroke="#000" stroke-width="1.3"/><text transform="translate(223.85,490.95) scale(1,1.13)" font-size="11.1" text-anchor="end">0.43</text><text transform="translate(223.85,464.51) scale(1,1.13)" font-size="11.1" text-anchor="end">0.44</text><text transform="translate(223.85,438.07) scale(1,1.13)" font-size="11.1" text-anchor="end">0.45</text><text transform="translate(223.85,411.63) scale(1,1.13)" font-size="11.1" text-anchor="end">0.46</text><text transform="translate(223.85,385.19) scale(1,1.13)" font-size="11.1" text-anchor="end">0.47</text><text transform="translate(223.85,358.75) scale(1,1.13)" font-size="11.1" text-anchor="end">0.48</text><polyline points="240.1,460.4 250.05,457.5 260.01,443 269.96,456.4 279.92,452.4 289.87,444.4 299.82,440.9 309.78,420.8 319.73,400.8 329.69,384.8 339.64,382.6 349.6,398.9 359.55,414.2" stroke="#404040" stroke-width="1" fill="none"/><path d="M236.6 456.9L243.6 463.9M236.6 463.9L243.6 456.9" stroke="#404040" stroke-width="1.5" fill="none"/><path d="M246.55 454L253.55 461M246.55 461L253.55 454" stroke="#404040" stroke-width="1.5" fill="none"/><path d="M256.51 439.5L263.51 446.5M256.51 446.5L263.51 439.5" stroke="#404040" stroke-width="1.5" fill="none"/><path d="M266.46 452.9L273.46 459.9M266.46 459.9L273.46 452.9" stroke="#404040" stroke-width="1.5" fill="none"/><path d="M276.42 448.9L283.42 455.9M276.42 455.9L283.42 448.9" stroke="#404040" stroke-width="1.5" fill="none"/><path d="M286.37 440.9L293.37 447.9M286.37 447.9L293.37 440.9" stroke="#404040" stroke-width="1.5" fill="none"/><path d="M296.32 437.4L303.32 444.4M296.32 444.4L303.32 437.4" stroke="#404040" stroke-width="1.5" fill="none"/><path d="M306.28 417.3L313.28 424.3M306.28 424.3L313.28 417.3" stroke="#404040" stroke-width="1.5" fill="none"/><path d="M316.23 397.3L323.23 404.3M316.23 404.3L323.23 397.3" stroke="#404040" stroke-width="1.5" fill="none"/><path d="M326.19 381.3L333.19 388.3M326.19 388.3L333.19 381.3" stroke="#404040" stroke-width="1.5" fill="none"/><path d="M336.14 379.1L343.14 386.1M336.14 386.1L343.14 379.1" stroke="#404040" stroke-width="1.5" fill="none"/><path d="M346.1 395.4L353.1 402.4M346.1 402.4L353.1 395.4" stroke="#404040" stroke-width="1.5" fill="none"/><path d="M356.05 410.7L363.05 417.7M356.05 417.7L363.05 410.7" stroke="#404040" stroke-width="1.5" fill="none"/><polyline points="240.1,435 250.05,426.2 260.01,418.7 269.96,412.8 279.92,408 289.87,404.3 299.82,401.3 309.78,398.9 319.73,397.6 329.69,397.3 339.64,398.1 349.6,400.8 359.55,406.1" stroke="#f51c1c" stroke-width="1" fill="none" stroke-dasharray="3,2"/><circle cx="240.1" cy="435" r="2.6" stroke="#f51c1c" stroke-width="1.65" fill="none"/><circle cx="250.05" cy="426.2" r="2.6" stroke="#f51c1c" stroke-width="1.65" fill="none"/><circle cx="260.01" cy="418.7" r="2.6" stroke="#f51c1c" stroke-width="1.65" fill="none"/><circle cx="269.96" cy="412.8" r="2.6" stroke="#f51c1c" stroke-width="1.65" fill="none"/><circle cx="279.92" cy="408" r="2.6" stroke="#f51c1c" stroke-width="1.65" fill="none"/><circle cx="289.87" cy="404.3" r="2.6" stroke="#f51c1c" stroke-width="1.65" fill="none"/><circle cx="299.82" cy="401.3" r="2.6" stroke="#f51c1c" stroke-width="1.65" fill="none"/><circle cx="309.78" cy="398.9" r="2.6" stroke="#f51c1c" stroke-width="1.65" fill="none"/><circle cx="319.73" cy="397.6" r="2.6" stroke="#f51c1c" stroke-width="1.65" fill="none"/><circle cx="329.69" cy="397.3" r="2.6" stroke="#f51c1c" stroke-width="1.65" fill="none"/><circle cx="339.64" cy="398.1" r="2.6" stroke="#f51c1c" stroke-width="1.65" fill="none"/><circle cx="349.6" cy="400.8" r="2.6" stroke="#f51c1c" stroke-width="1.65" fill="none"/><circle cx="359.55" cy="406.1" r="2.6" stroke="#f51c1c" stroke-width="1.65" fill="none"/><polyline points="240.1,460.4 250.05,457.5 260.01,453.7 269.96,450.8 279.92,447.6 289.87,444.4 299.82,441.4 309.78,436.3 319.73,432.3 329.69,428.3 339.64,422.7 349.6,418.7 359.55,414.2" stroke="#1f62e0" stroke-width="1" fill="none" stroke-dasharray="1,1.6"/><path d="M240.1 457.9L243.1 462.9L237.1 462.9Z" stroke="#1f62e0" stroke-width="1.5" fill="none" stroke-linejoin="round"/><path d="M250.05 455L253.05 460L247.05 460Z" stroke="#1f62e0" stroke-width="1.5" fill="none" stroke-linejoin="round"/><path d="M260.01 451.2L263.01 456.2L257.01 456.2Z" stroke="#1f62e0" stroke-width="1.5" fill="none" stroke-linejoin="round"/><path d="M269.96 448.3L272.96 453.3L266.96 453.3Z" stroke="#1f62e0" stroke-width="1.5" fill="none" stroke-linejoin="round"/><path d="M279.92 445.1L282.92 450.1L276.92 450.1Z" stroke="#1f62e0" stroke-width="1.5" fill="none" stroke-linejoin="round"/><path d="M289.87 441.9L292.87 446.9L286.87 446.9Z" stroke="#1f62e0" stroke-width="1.5" fill="none" stroke-linejoin="round"/><path d="M299.82 438.9L302.82 443.9L296.82 443.9Z" stroke="#1f62e0" stroke-width="1.5" fill="none" stroke-linejoin="round"/><path d="M309.78 433.8L312.78 438.8L306.78 438.8Z" stroke="#1f62e0" stroke-width="1.5" fill="none" stroke-linejoin="round"/><path d="M319.73 429.8L322.73 434.8L316.73 434.8Z" stroke="#1f62e0" stroke-width="1.5" fill="none" stroke-linejoin="round"/><path d="M329.69 425.8L332.69 430.8L326.69 430.8Z" stroke="#1f62e0" stroke-width="1.5" fill="none" stroke-linejoin="round"/><path d="M339.64 420.2L342.64 425.2L336.64 425.2Z" stroke="#1f62e0" stroke-width="1.5" fill="none" stroke-linejoin="round"/><path d="M349.6 416.2L352.6 421.2L346.6 421.2Z" stroke="#1f62e0" stroke-width="1.5" fill="none" stroke-linejoin="round"/><path d="M359.55 411.7L362.55 416.7L356.55 416.7Z" stroke="#1f62e0" stroke-width="1.5" fill="none" stroke-linejoin="round"/><rect x="230.15" y="357.15" width="139.35" height="132.2" stroke="#000" stroke-width="1.5" fill="none"/><text transform="translate(243.1,347.35) scale(1,1.07)" font-size="12.9">(h) WT2 &amp; θ<tspan font-size="9" dy="2.6">1</tspan><tspan font-size="12" dy="-1.8">=</tspan><tspan dy="-0.8">0</tspan><tspan font-size="10.5" dy="-0.9">°</tspan></text><text x="240.1" y="505" font-size="11.4" text-anchor="middle">-30</text><text x="260.01" y="505" font-size="11.4" text-anchor="middle">-20</text><text x="279.92" y="505" font-size="11.4" text-anchor="middle">-10</text><text x="299.82" y="505" font-size="11.4" text-anchor="middle">0</text><text x="319.73" y="505" font-size="11.4" text-anchor="middle">10</text><text x="339.64" y="505" font-size="11.4" text-anchor="middle">20</text><text x="359.55" y="505" font-size="11.4" text-anchor="middle">30</text><text x="194.5" y="522.8" font-size="11.6" xml:space="preserve">Yaw angle of turbine 2  (degree)</text></g><g><line x1="412.5" y1="357.65" x2="412.5" y2="490.35" stroke="#858585" stroke-width="1"/><line x1="432.5" y1="357.65" x2="432.5" y2="490.35" stroke="#858585" stroke-width="1"/><line x1="452.5" y1="357.65" x2="452.5" y2="490.35" stroke="#858585" stroke-width="1"/><line x1="472.5" y1="357.65" x2="472.5" y2="490.35" stroke="#858585" stroke-width="1"/><line x1="492.5" y1="357.65" x2="492.5" y2="490.35" stroke="#858585" stroke-width="1"/><line x1="512.5" y1="357.65" x2="512.5" y2="490.35" stroke="#858585" stroke-width="1"/><line x1="532.5" y1="357.65" x2="532.5" y2="490.35" stroke="#858585" stroke-width="1"/><line x1="402.6" y1="450.5" x2="541.95" y2="450.5" stroke="#858585" stroke-width="1"/><line x1="402.6" y1="407.5" x2="541.95" y2="407.5" stroke="#858585" stroke-width="1"/><line x1="402.6" y1="364.5" x2="541.95" y2="364.5" stroke="#858585" stroke-width="1"/><line x1="412.55" y1="490.35" x2="412.55" y2="485.35" stroke="#000" stroke-width="1.3"/><line x1="412.55" y1="357.65" x2="412.55" y2="362.65" stroke="#000" stroke-width="1.3"/><line x1="422.52" y1="490.35" x2="422.52" y2="487.75" stroke="#000" stroke-width="1.3"/><line x1="422.52" y1="357.65" x2="422.52" y2="360.25" stroke="#000" stroke-width="1.3"/><line x1="432.48" y1="490.35" x2="432.48" y2="485.35" stroke="#000" stroke-width="1.3"/><line x1="432.48" y1="357.65" x2="432.48" y2="362.65" stroke="#000" stroke-width="1.3"/><line x1="442.45" y1="490.35" x2="442.45" y2="487.75" stroke="#000" stroke-width="1.3"/><line x1="442.45" y1="357.65" x2="442.45" y2="360.25" stroke="#000" stroke-width="1.3"/><line x1="452.42" y1="490.35" x2="452.42" y2="485.35" stroke="#000" stroke-width="1.3"/><line x1="452.42" y1="357.65" x2="452.42" y2="362.65" stroke="#000" stroke-width="1.3"/><line x1="462.38" y1="490.35" x2="462.38" y2="487.75" stroke="#000" stroke-width="1.3"/><line x1="462.38" y1="357.65" x2="462.38" y2="360.25" stroke="#000" stroke-width="1.3"/><line x1="472.35" y1="490.35" x2="472.35" y2="485.35" stroke="#000" stroke-width="1.3"/><line x1="472.35" y1="357.65" x2="472.35" y2="362.65" stroke="#000" stroke-width="1.3"/><line x1="482.32" y1="490.35" x2="482.32" y2="487.75" stroke="#000" stroke-width="1.3"/><line x1="482.32" y1="357.65" x2="482.32" y2="360.25" stroke="#000" stroke-width="1.3"/><line x1="492.28" y1="490.35" x2="492.28" y2="485.35" stroke="#000" stroke-width="1.3"/><line x1="492.28" y1="357.65" x2="492.28" y2="362.65" stroke="#000" stroke-width="1.3"/><line x1="502.25" y1="490.35" x2="502.25" y2="487.75" stroke="#000" stroke-width="1.3"/><line x1="502.25" y1="357.65" x2="502.25" y2="360.25" stroke="#000" stroke-width="1.3"/><line x1="512.22" y1="490.35" x2="512.22" y2="485.35" stroke="#000" stroke-width="1.3"/><line x1="512.22" y1="357.65" x2="512.22" y2="362.65" stroke="#000" stroke-width="1.3"/><line x1="522.18" y1="490.35" x2="522.18" y2="487.75" stroke="#000" stroke-width="1.3"/><line x1="522.18" y1="357.65" x2="522.18" y2="360.25" stroke="#000" stroke-width="1.3"/><line x1="532.15" y1="490.35" x2="532.15" y2="485.35" stroke="#000" stroke-width="1.3"/><line x1="532.15" y1="357.65" x2="532.15" y2="362.65" stroke="#000" stroke-width="1.3"/><line x1="402.6" y1="450.54" x2="407.6" y2="450.54" stroke="#000" stroke-width="1.3"/><line x1="541.95" y1="450.54" x2="536.95" y2="450.54" stroke="#000" stroke-width="1.3"/><line x1="402.6" y1="407.41" x2="407.6" y2="407.41" stroke="#000" stroke-width="1.3"/><line x1="541.95" y1="407.41" x2="536.95" y2="407.41" stroke="#000" stroke-width="1.3"/><line x1="402.6" y1="364.28" x2="407.6" y2="364.28" stroke="#000" stroke-width="1.3"/><line x1="541.95" y1="364.28" x2="536.95" y2="364.28" stroke="#000" stroke-width="1.3"/><line x1="402.6" y1="472.1" x2="405.2" y2="472.1" stroke="#000" stroke-width="1.3"/><line x1="541.95" y1="472.1" x2="539.35" y2="472.1" stroke="#000" stroke-width="1.3"/><line x1="402.6" y1="428.98" x2="405.2" y2="428.98" stroke="#000" stroke-width="1.3"/><line x1="541.95" y1="428.98" x2="539.35" y2="428.98" stroke="#000" stroke-width="1.3"/><line x1="402.6" y1="385.85" x2="405.2" y2="385.85" stroke="#000" stroke-width="1.3"/><line x1="541.95" y1="385.85" x2="539.35" y2="385.85" stroke="#000" stroke-width="1.3"/><text transform="translate(396.3,452.14) scale(1,1.13)" font-size="11.1" text-anchor="end">0.52</text><text transform="translate(396.3,409.01) scale(1,1.13)" font-size="11.1" text-anchor="end">0.65</text><text transform="translate(396.3,365.88) scale(1,1.13)" font-size="11.1" text-anchor="end">0.78</text><polyline points="412.55,414.3 422.52,433.8 432.48,454 442.45,466.1 452.42,465.8 462.38,469.5 472.35,469 482.32,463.6 492.28,458.9 502.25,457 512.22,443.8 522.18,426.6 532.15,396.5" stroke="#404040" stroke-width="1" fill="none"/><path d="M409.05 410.8L416.05 417.8M409.05 417.8L416.05 410.8" stroke="#404040" stroke-width="1.5" fill="none"/><path d="M419.02 430.3L426.02 437.3M419.02 437.3L426.02 430.3" stroke="#404040" stroke-width="1.5" fill="none"/><path d="M428.98 450.5L435.98 457.5M428.98 457.5L435.98 450.5" stroke="#404040" stroke-width="1.5" fill="none"/><path d="M438.95 462.6L445.95 469.6M438.95 469.6L445.95 462.6" stroke="#404040" stroke-width="1.5" fill="none"/><path d="M448.92 462.3L455.92 469.3M448.92 469.3L455.92 462.3" stroke="#404040" stroke-width="1.5" fill="none"/><path d="M458.88 466L465.88 473M458.88 473L465.88 466" stroke="#404040" stroke-width="1.5" fill="none"/><path d="M468.85 465.5L475.85 472.5M468.85 472.5L475.85 465.5" stroke="#404040" stroke-width="1.5" fill="none"/><path d="M478.82 460.1L485.82 467.1M478.82 467.1L485.82 460.1" stroke="#404040" stroke-width="1.5" fill="none"/><path d="M488.78 455.4L495.78 462.4M488.78 462.4L495.78 455.4" stroke="#404040" stroke-width="1.5" fill="none"/><path d="M498.75 453.5L505.75 460.5M498.75 460.5L505.75 453.5" stroke="#404040" stroke-width="1.5" fill="none"/><path d="M508.72 440.3L515.72 447.3M508.72 447.3L515.72 440.3" stroke="#404040" stroke-width="1.5" fill="none"/><path d="M518.68 423.1L525.68 430.1M518.68 430.1L525.68 423.1" stroke="#404040" stroke-width="1.5" fill="none"/><path d="M528.65 393L535.65 400M528.65 400L535.65 393" stroke="#404040" stroke-width="1.5" fill="none"/><polyline points="412.55,410.5 422.52,427 432.48,441.3 442.45,453.3 452.42,460.8 462.38,465.4 472.35,465.4 482.32,461.7 492.28,453.2 502.25,441.6 512.22,427 522.18,409.3 532.15,389.4" stroke="#f51c1c" stroke-width="1" fill="none" stroke-dasharray="3,2"/><circle cx="412.55" cy="410.5" r="2.6" stroke="#f51c1c" stroke-width="1.65" fill="none"/><circle cx="422.52" cy="427" r="2.6" stroke="#f51c1c" stroke-width="1.65" fill="none"/><circle cx="432.48" cy="441.3" r="2.6" stroke="#f51c1c" stroke-width="1.65" fill="none"/><circle cx="442.45" cy="453.3" r="2.6" stroke="#f51c1c" stroke-width="1.65" fill="none"/><circle cx="452.42" cy="460.8" r="2.6" stroke="#f51c1c" stroke-width="1.65" fill="none"/><circle cx="462.38" cy="465.4" r="2.6" stroke="#f51c1c" stroke-width="1.65" fill="none"/><circle cx="472.35" cy="465.4" r="2.6" stroke="#f51c1c" stroke-width="1.65" fill="none"/><circle cx="482.32" cy="461.7" r="2.6" stroke="#f51c1c" stroke-width="1.65" fill="none"/><circle cx="492.28" cy="453.2" r="2.6" stroke="#f51c1c" stroke-width="1.65" fill="none"/><circle cx="502.25" cy="441.6" r="2.6" stroke="#f51c1c" stroke-width="1.65" fill="none"/><circle cx="512.22" cy="427" r="2.6" stroke="#f51c1c" stroke-width="1.65" fill="none"/><circle cx="522.18" cy="409.3" r="2.6" stroke="#f51c1c" stroke-width="1.65" fill="none"/><circle cx="532.15" cy="389.4" r="2.6" stroke="#f51c1c" stroke-width="1.65" fill="none"/><polyline points="412.55,414.3 422.52,422.8 432.48,431.5 442.45,440.9 452.42,451.1 462.38,460 472.35,468.7 482.32,457 492.28,444.8 502.25,433.1 512.22,420.4 522.18,409.1 532.15,397.8" stroke="#1f62e0" stroke-width="1" fill="none" stroke-dasharray="1,1.6"/><path d="M412.55 411.8L415.55 416.8L409.55 416.8Z" stroke="#1f62e0" stroke-width="1.5" fill="none" stroke-linejoin="round"/><path d="M422.52 420.3L425.52 425.3L419.52 425.3Z" stroke="#1f62e0" stroke-width="1.5" fill="none" stroke-linejoin="round"/><path d="M432.48 429L435.48 434L429.48 434Z" stroke="#1f62e0" stroke-width="1.5" fill="none" stroke-linejoin="round"/><path d="M442.45 438.4L445.45 443.4L439.45 443.4Z" stroke="#1f62e0" stroke-width="1.5" fill="none" stroke-linejoin="round"/><path d="M452.42 448.6L455.42 453.6L449.42 453.6Z" stroke="#1f62e0" stroke-width="1.5" fill="none" stroke-linejoin="round"/><path d="M462.38 457.5L465.38 462.5L459.38 462.5Z" stroke="#1f62e0" stroke-width="1.5" fill="none" stroke-linejoin="round"/><path d="M472.35 466.2L475.35 471.2L469.35 471.2Z" stroke="#1f62e0" stroke-width="1.5" fill="none" stroke-linejoin="round"/><path d="M482.32 454.5L485.32 459.5L479.32 459.5Z" stroke="#1f62e0" stroke-width="1.5" fill="none" stroke-linejoin="round"/><path d="M492.28 442.3L495.28 447.3L489.28 447.3Z" stroke="#1f62e0" stroke-width="1.5" fill="none" stroke-linejoin="round"/><path d="M502.25 430.6L505.25 435.6L499.25 435.6Z" stroke="#1f62e0" stroke-width="1.5" fill="none" stroke-linejoin="round"/><path d="M512.22 417.9L515.22 422.9L509.22 422.9Z" stroke="#1f62e0" stroke-width="1.5" fill="none" stroke-linejoin="round"/><path d="M522.18 406.6L525.18 411.6L519.18 411.6Z" stroke="#1f62e0" stroke-width="1.5" fill="none" stroke-linejoin="round"/><path d="M532.15 395.3L535.15 400.3L529.15 400.3Z" stroke="#1f62e0" stroke-width="1.5" fill="none" stroke-linejoin="round"/><rect x="402.6" y="357.65" width="139.35" height="132.7" stroke="#000" stroke-width="1.5" fill="none"/><text transform="translate(423.7,348.8) scale(1,1.07)" font-size="12.9">(i) WT3 &amp; θ<tspan font-size="9" dy="2.6">1</tspan><tspan font-size="12" dy="-1.8">=</tspan><tspan dy="-0.8">0</tspan><tspan font-size="10.5" dy="-0.9">°</tspan></text><text x="412.55" y="505.8" font-size="11.4" text-anchor="middle">-30</text><text x="432.48" y="505.8" font-size="11.4" text-anchor="middle">-20</text><text x="452.42" y="505.8" font-size="11.4" text-anchor="middle">-10</text><text x="472.35" y="505.8" font-size="11.4" text-anchor="middle">0</text><text x="492.28" y="505.8" font-size="11.4" text-anchor="middle">10</text><text x="512.22" y="505.8" font-size="11.4" text-anchor="middle">20</text><text x="532.15" y="505.8" font-size="11.4" text-anchor="middle">30</text><text x="390" y="524.2" font-size="11.6" xml:space="preserve">Yaw angle of turbine 2  (degree)</text></g><rect x="58.5" y="39.9" width="74.1" height="43.9" fill="#fff" stroke="#000" stroke-width="1.1"/><line x1="60.1" y1="47.8" x2="86" y2="47.8" stroke="#404040" stroke-width="1"/><path d="M70.2 44.3L77.2 51.3M70.2 51.3L77.2 44.3" stroke="#404040" stroke-width="1.5" fill="none"/><text transform="translate(90.1,52) scale(1,1.07)" font-size="11.5">Samples</text><line x1="60.1" y1="61.7" x2="86" y2="61.7" stroke="#f51c1c" stroke-width="1" stroke-dasharray="3,2"/><circle cx="73.7" cy="61.7" r="2.6" stroke="#f51c1c" stroke-width="1.65" fill="none"/><text transform="translate(90.1,65.9) scale(1,1.07)" font-size="11.5">GP</text><line x1="60.1" y1="75.6" x2="86" y2="75.6" stroke="#1f62e0" stroke-width="1" stroke-dasharray="1,1.6"/><path d="M73.7 73.1L76.7 78.1L70.7 78.1Z" stroke="#1f62e0" stroke-width="1.5" fill="none" stroke-linejoin="round"/><text transform="translate(90.1,79.9) scale(1,1.07)" font-size="11.5">LUT</text><text transform="translate(18.8,173.8) rotate(-90) scale(1.023,1)" font-size="11.3">Normalized damage equivalent load</text><text transform="translate(17.9,343.3) rotate(-90) scale(1.023,1)" font-size="11.3">Normalized damage equivalent load</text><text transform="translate(16.7,513.3) rotate(-90) scale(1.023,1)" font-size="11.3">Normalized damage equivalent load</text></svg></body></html>
